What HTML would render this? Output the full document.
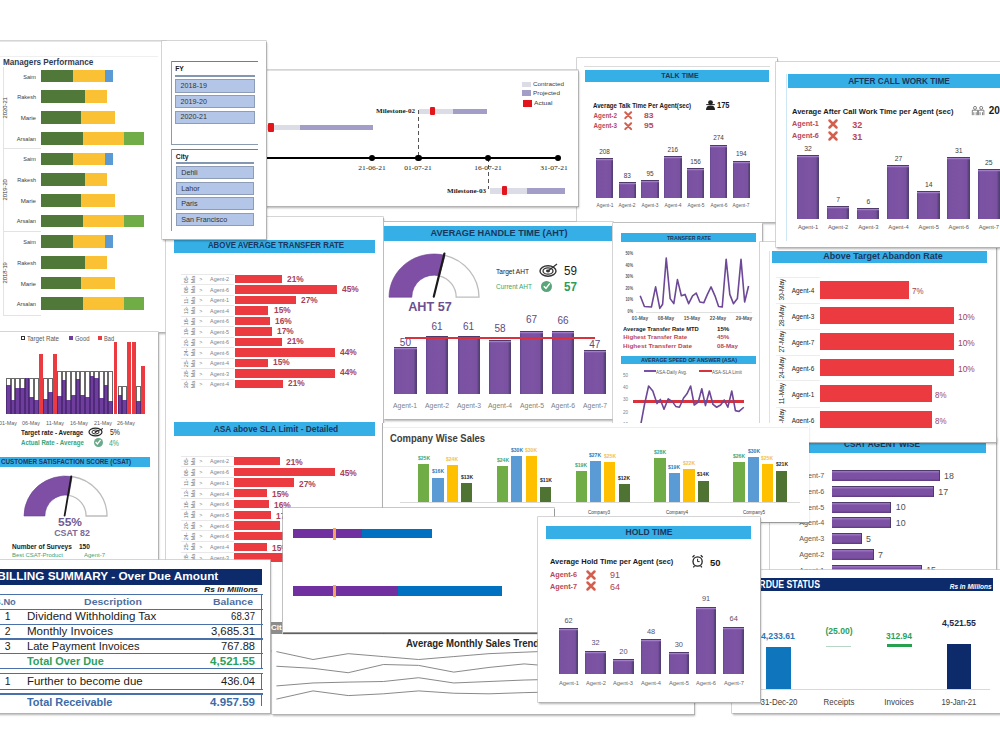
<!DOCTYPE html><html><head><meta charset="utf-8"><style>
html,body{margin:0;padding:0;background:#fff;}
body{width:1000px;height:750px;position:relative;overflow:hidden;font-family:"Liberation Sans",sans-serif;}
</style></head><body>
<div style="position:absolute;left:-10px;top:300px;width:175.5px;height:266px;background:#fff;box-shadow:0 0 0 .7px #c4c4c4,1px 1px 0 #8c8c8c,1px 2px 2px rgba(0,0,0,.3);overflow:hidden;">
</div>
<div style="position:absolute;left:-10px;top:41px;width:175.5px;height:291px;background:#fff;box-shadow:0 0 0 .7px #c4c4c4,1px 1px 0 #8c8c8c,1px 2px 2px rgba(0,0,0,.3);overflow:hidden;">
<div style="position:absolute;left:0px;top:0px;width:175.5px;height:0.6px;background:#e6e6e6;"></div>
<div style="position:absolute;left:0px;top:14.5px;width:168px;height:0.7px;background:#efefef;"></div>
<div style="position:absolute;left:13px;top:12.7px;height:17px;line-height:17px;font-family:'Liberation Sans', sans-serif;font-size:8.5px;font-weight:bold;color:#2f3b55;white-space:nowrap;transform:scaleX(0.96);transform-origin:0 50%;">Managers Performance</div>
<div style="position:absolute;left:13px;top:26px;width:0.6px;height:248px;background:#e3e3e3;"></div>
<div style="position:absolute;left:13px;top:274px;width:38px;height:0.6px;background:#e3e3e3;"></div>
<div style="position:absolute;left:13px;top:107px;width:38px;height:0.6px;background:#e3e3e3;"></div>
<div style="position:absolute;left:13px;top:190.3px;width:38px;height:0.6px;background:#e3e3e3;"></div>
<div style="position:absolute;left:-83.8px;top:60.7px;width:200px;height:11.6px;line-height:11.6px;text-align:center;transform:rotate(-90deg);font-family:'Liberation Sans', sans-serif;font-size:5.8px;font-weight:normal;color:#404040;white-space:nowrap;">2020-21</div>
<div style="position:absolute;left:-83.8px;top:143.2px;width:200px;height:11.6px;line-height:11.6px;text-align:center;transform:rotate(-90deg);font-family:'Liberation Sans', sans-serif;font-size:5.8px;font-weight:normal;color:#404040;white-space:nowrap;">2019-20</div>
<div style="position:absolute;left:-83.8px;top:226.2px;width:200px;height:11.6px;line-height:11.6px;text-align:center;transform:rotate(-90deg);font-family:'Liberation Sans', sans-serif;font-size:5.8px;font-weight:normal;color:#404040;white-space:nowrap;">2018-19</div>
<div style="position:absolute;left:-954.5px;width:1000px;text-align:right;top:29.5px;height:12.4px;line-height:12.4px;font-family:'Liberation Sans', sans-serif;font-size:6.2px;font-weight:normal;color:#404040;white-space:nowrap;transform:scaleX(0.9);transform-origin:100% 50%;">Saim</div>
<div style="position:absolute;left:51px;top:28.7px;width:32px;height:12.8px;background:#507838;"></div>
<div style="position:absolute;left:83px;top:28.7px;width:32px;height:12.8px;background:#f9c133;"></div>
<div style="position:absolute;left:115px;top:28.7px;width:8.2px;height:12.8px;background:#5b9bd5;"></div>
<div style="position:absolute;left:-954.5px;width:1000px;text-align:right;top:50.2px;height:12.4px;line-height:12.4px;font-family:'Liberation Sans', sans-serif;font-size:6.2px;font-weight:normal;color:#404040;white-space:nowrap;transform:scaleX(0.89);transform-origin:100% 50%;">Rakesh</div>
<div style="position:absolute;left:51px;top:49.4px;width:44.3px;height:12.8px;background:#507838;"></div>
<div style="position:absolute;left:95.3px;top:49.4px;width:22.1px;height:12.8px;background:#f9c133;"></div>
<div style="position:absolute;left:-954.5px;width:1000px;text-align:right;top:70.9px;height:12.4px;line-height:12.4px;font-family:'Liberation Sans', sans-serif;font-size:6.2px;font-weight:normal;color:#404040;white-space:nowrap;transform:scaleX(0.99);transform-origin:100% 50%;">Marie</div>
<div style="position:absolute;left:51px;top:70.1px;width:40.3px;height:12.8px;background:#507838;"></div>
<div style="position:absolute;left:91.3px;top:70.1px;width:33.5px;height:12.8px;background:#f9c133;"></div>
<div style="position:absolute;left:-954.5px;width:1000px;text-align:right;top:91.6px;height:12.4px;line-height:12.4px;font-family:'Liberation Sans', sans-serif;font-size:6.2px;font-weight:normal;color:#404040;white-space:nowrap;transform:scaleX(0.92);transform-origin:100% 50%;">Arsalan</div>
<div style="position:absolute;left:51px;top:90.8px;width:42px;height:12.8px;background:#507838;"></div>
<div style="position:absolute;left:93px;top:90.8px;width:41px;height:12.8px;background:#f9c133;"></div>
<div style="position:absolute;left:134px;top:90.8px;width:20px;height:12.8px;background:#70ad47;"></div>
<div style="position:absolute;left:-954.5px;width:1000px;text-align:right;top:112.3px;height:12.4px;line-height:12.4px;font-family:'Liberation Sans', sans-serif;font-size:6.2px;font-weight:normal;color:#404040;white-space:nowrap;transform:scaleX(0.9);transform-origin:100% 50%;">Saim</div>
<div style="position:absolute;left:51px;top:111.5px;width:32px;height:12.8px;background:#507838;"></div>
<div style="position:absolute;left:83px;top:111.5px;width:32px;height:12.8px;background:#f9c133;"></div>
<div style="position:absolute;left:115px;top:111.5px;width:8.2px;height:12.8px;background:#5b9bd5;"></div>
<div style="position:absolute;left:-954.5px;width:1000px;text-align:right;top:133px;height:12.4px;line-height:12.4px;font-family:'Liberation Sans', sans-serif;font-size:6.2px;font-weight:normal;color:#404040;white-space:nowrap;transform:scaleX(0.89);transform-origin:100% 50%;">Rakesh</div>
<div style="position:absolute;left:51px;top:132.2px;width:44.3px;height:12.8px;background:#507838;"></div>
<div style="position:absolute;left:95.3px;top:132.2px;width:22.1px;height:12.8px;background:#f9c133;"></div>
<div style="position:absolute;left:-954.5px;width:1000px;text-align:right;top:153.7px;height:12.4px;line-height:12.4px;font-family:'Liberation Sans', sans-serif;font-size:6.2px;font-weight:normal;color:#404040;white-space:nowrap;transform:scaleX(0.99);transform-origin:100% 50%;">Marie</div>
<div style="position:absolute;left:51px;top:152.9px;width:40.3px;height:12.8px;background:#507838;"></div>
<div style="position:absolute;left:91.3px;top:152.9px;width:33.5px;height:12.8px;background:#f9c133;"></div>
<div style="position:absolute;left:-954.5px;width:1000px;text-align:right;top:174.4px;height:12.4px;line-height:12.4px;font-family:'Liberation Sans', sans-serif;font-size:6.2px;font-weight:normal;color:#404040;white-space:nowrap;transform:scaleX(0.92);transform-origin:100% 50%;">Arsalan</div>
<div style="position:absolute;left:51px;top:173.6px;width:42px;height:12.8px;background:#507838;"></div>
<div style="position:absolute;left:93px;top:173.6px;width:41px;height:12.8px;background:#f9c133;"></div>
<div style="position:absolute;left:134px;top:173.6px;width:20px;height:12.8px;background:#70ad47;"></div>
<div style="position:absolute;left:-954.5px;width:1000px;text-align:right;top:195.1px;height:12.4px;line-height:12.4px;font-family:'Liberation Sans', sans-serif;font-size:6.2px;font-weight:normal;color:#404040;white-space:nowrap;transform:scaleX(0.9);transform-origin:100% 50%;">Saim</div>
<div style="position:absolute;left:51px;top:194.3px;width:32px;height:12.8px;background:#507838;"></div>
<div style="position:absolute;left:83px;top:194.3px;width:32px;height:12.8px;background:#f9c133;"></div>
<div style="position:absolute;left:115px;top:194.3px;width:8.2px;height:12.8px;background:#5b9bd5;"></div>
<div style="position:absolute;left:-954.5px;width:1000px;text-align:right;top:215.8px;height:12.4px;line-height:12.4px;font-family:'Liberation Sans', sans-serif;font-size:6.2px;font-weight:normal;color:#404040;white-space:nowrap;transform:scaleX(0.89);transform-origin:100% 50%;">Rakesh</div>
<div style="position:absolute;left:51px;top:215px;width:44.3px;height:12.8px;background:#507838;"></div>
<div style="position:absolute;left:95.3px;top:215px;width:22.1px;height:12.8px;background:#f9c133;"></div>
<div style="position:absolute;left:-954.5px;width:1000px;text-align:right;top:236.5px;height:12.4px;line-height:12.4px;font-family:'Liberation Sans', sans-serif;font-size:6.2px;font-weight:normal;color:#404040;white-space:nowrap;transform:scaleX(0.99);transform-origin:100% 50%;">Marie</div>
<div style="position:absolute;left:51px;top:235.7px;width:40.3px;height:12.8px;background:#507838;"></div>
<div style="position:absolute;left:91.3px;top:235.7px;width:33.5px;height:12.8px;background:#f9c133;"></div>
<div style="position:absolute;left:-954.5px;width:1000px;text-align:right;top:257.2px;height:12.4px;line-height:12.4px;font-family:'Liberation Sans', sans-serif;font-size:6.2px;font-weight:normal;color:#404040;white-space:nowrap;transform:scaleX(0.92);transform-origin:100% 50%;">Arsalan</div>
<div style="position:absolute;left:51px;top:256.4px;width:42px;height:12.8px;background:#507838;"></div>
<div style="position:absolute;left:93px;top:256.4px;width:41px;height:12.8px;background:#f9c133;"></div>
<div style="position:absolute;left:134px;top:256.4px;width:20px;height:12.8px;background:#70ad47;"></div>
</div>
<div style="position:absolute;left:266px;top:180px;width:311px;height:41.2px;background:#fff;box-shadow:0 0 0 .7px #c4c4c4,1px 1px 0 #8c8c8c,1px 2px 2px rgba(0,0,0,.3);overflow:hidden;">
</div>
<div style="position:absolute;left:576.7px;top:57.7px;width:200.1px;height:164.6px;background:#fff;box-shadow:0 0 0 .7px #c4c4c4,1px 1px 0 #8c8c8c,1px 2px 2px rgba(0,0,0,.3);overflow:hidden;">
<div style="position:absolute;left:7.3px;top:8.3px;width:186px;height:0.7px;background:#dcdcdc;"></div>
<div style="position:absolute;left:8.2px;top:12.2px;width:184.2px;height:11.8px;background:#36afe6;"></div>
<div style="position:absolute;left:-396.7px;width:1000px;text-align:center;top:10.3px;height:15.6px;line-height:15.6px;font-family:'Liberation Sans', sans-serif;font-size:7.8px;font-weight:bold;color:#1b365d;white-space:nowrap;transform:scaleX(0.91);transform-origin:50% 50%;">TALK TIME</div>
<div style="position:absolute;left:16.8px;top:41.3px;height:13.2px;line-height:13.2px;font-family:'Liberation Sans', sans-serif;font-size:6.6px;font-weight:bold;color:#1a1a1a;white-space:nowrap;transform:scaleX(0.93);transform-origin:0 50%;">Average Talk Time Per Agent(sec)</div>
<div style="position:absolute;left:140.8px;top:39.4px;height:17px;line-height:17px;font-family:'Liberation Sans', sans-serif;font-size:8.5px;font-weight:bold;color:#1a1a1a;white-space:nowrap;transform:scaleX(0.88);transform-origin:0 50%;">175</div>
<svg style="position:absolute;left:128.3px;top:41.3px;overflow:visible" width="11" height="11" viewBox="705 99 11 11">
<circle cx="710.5" cy="102.6" r="2.4" fill="#222"/><path d="M706.2 104.6 H714.8" stroke="#222" stroke-width="1"/><path d="M706 110 Q706 105.6 710.5 105.6 Q715 105.6 715 110 Z" fill="#222"/>
</svg>
<div style="position:absolute;left:16.8px;top:51.9px;height:12.6px;line-height:12.6px;font-family:'Liberation Sans', sans-serif;font-size:6.3px;font-weight:bold;color:#b8475a;white-space:nowrap;transform:scaleX(1);transform-origin:0 50%;">Agent-2</div>
<div style="position:absolute;left:16.8px;top:62.2px;height:12.6px;line-height:12.6px;font-family:'Liberation Sans', sans-serif;font-size:6.3px;font-weight:bold;color:#b8475a;white-space:nowrap;transform:scaleX(1);transform-origin:0 50%;">Agent-3</div>
<div style="position:absolute;left:67px;top:50.2px;height:16px;line-height:16px;font-family:'Liberation Sans', sans-serif;font-size:8px;font-weight:bold;color:#b8475a;white-space:nowrap;transform:scaleX(1.07);transform-origin:0 50%;">83</div>
<div style="position:absolute;left:67px;top:60.5px;height:16px;line-height:16px;font-family:'Liberation Sans', sans-serif;font-size:8px;font-weight:bold;color:#b8475a;white-space:nowrap;transform:scaleX(1.07);transform-origin:0 50%;">95</div>
<svg style="position:absolute;left:47.4px;top:53.7px;overflow:visible" width="8.4" height="8.4" viewBox="624.1 111.4 8.4 8.4">
<path d="M625.36 112.66L631.24 118.54M631.24 112.66L625.36 118.54" stroke="#d45f4f" stroke-width="2.1" stroke-linecap="round"/>
</svg>
<svg style="position:absolute;left:47.4px;top:63.9px;overflow:visible" width="8.4" height="8.4" viewBox="624.1 121.6 8.4 8.4">
<path d="M625.36 122.86L631.24 128.74M631.24 122.86L625.36 128.74" stroke="#d45f4f" stroke-width="2.1" stroke-linecap="round"/>
</svg>
<div style="position:absolute;left:19.2px;top:100.3px;width:17.3px;height:40.3px;background:linear-gradient(90deg,#62458f 0%,#7a52a2 8%,#7d53a4 60%,#7a51a0 86%,#5c4680 92%,#4f3d6e 100%);box-sizing:border-box;border-top:1px solid #4e3a6b;box-shadow:inset 0 1.3px 0 #a27ec8;"></div>
<div style="position:absolute;left:-472.15px;width:1000px;text-align:center;top:88px;height:12.8px;line-height:12.8px;font-family:'Liberation Sans', sans-serif;font-size:6.4px;font-weight:normal;color:#404040;white-space:nowrap;">208</div>
<div style="position:absolute;left:-472.15px;width:1000px;text-align:center;top:143.3px;height:9.6px;line-height:9.6px;font-family:'Liberation Sans', sans-serif;font-size:4.8px;font-weight:normal;color:#595959;white-space:nowrap;transform:scaleX(1.01);transform-origin:50% 50%;">Agent-1</div>
<div style="position:absolute;left:42px;top:124.7px;width:17.3px;height:15.9px;background:linear-gradient(90deg,#62458f 0%,#7a52a2 8%,#7d53a4 60%,#7a51a0 86%,#5c4680 92%,#4f3d6e 100%);box-sizing:border-box;border-top:1px solid #4e3a6b;box-shadow:inset 0 1.3px 0 #a27ec8;"></div>
<div style="position:absolute;left:-449.35px;width:1000px;text-align:center;top:112.4px;height:12.8px;line-height:12.8px;font-family:'Liberation Sans', sans-serif;font-size:6.4px;font-weight:normal;color:#404040;white-space:nowrap;">83</div>
<div style="position:absolute;left:-449.35px;width:1000px;text-align:center;top:143.3px;height:9.6px;line-height:9.6px;font-family:'Liberation Sans', sans-serif;font-size:4.8px;font-weight:normal;color:#595959;white-space:nowrap;transform:scaleX(1.01);transform-origin:50% 50%;">Agent-2</div>
<div style="position:absolute;left:64.6px;top:122.6px;width:17.5px;height:18px;background:linear-gradient(90deg,#62458f 0%,#7a52a2 8%,#7d53a4 60%,#7a51a0 86%,#5c4680 92%,#4f3d6e 100%);box-sizing:border-box;border-top:1px solid #4e3a6b;box-shadow:inset 0 1.3px 0 #a27ec8;"></div>
<div style="position:absolute;left:-426.65px;width:1000px;text-align:center;top:110.3px;height:12.8px;line-height:12.8px;font-family:'Liberation Sans', sans-serif;font-size:6.4px;font-weight:normal;color:#404040;white-space:nowrap;">95</div>
<div style="position:absolute;left:-426.65px;width:1000px;text-align:center;top:143.3px;height:9.6px;line-height:9.6px;font-family:'Liberation Sans', sans-serif;font-size:4.8px;font-weight:normal;color:#595959;white-space:nowrap;transform:scaleX(1.01);transform-origin:50% 50%;">Agent-3</div>
<div style="position:absolute;left:87.3px;top:98.3px;width:17.6px;height:42.3px;background:linear-gradient(90deg,#62458f 0%,#7a52a2 8%,#7d53a4 60%,#7a51a0 86%,#5c4680 92%,#4f3d6e 100%);box-sizing:border-box;border-top:1px solid #4e3a6b;box-shadow:inset 0 1.3px 0 #a27ec8;"></div>
<div style="position:absolute;left:-403.9px;width:1000px;text-align:center;top:86px;height:12.8px;line-height:12.8px;font-family:'Liberation Sans', sans-serif;font-size:6.4px;font-weight:normal;color:#404040;white-space:nowrap;">216</div>
<div style="position:absolute;left:-403.9px;width:1000px;text-align:center;top:143.3px;height:9.6px;line-height:9.6px;font-family:'Liberation Sans', sans-serif;font-size:4.8px;font-weight:normal;color:#595959;white-space:nowrap;transform:scaleX(1.01);transform-origin:50% 50%;">Agent-4</div>
<div style="position:absolute;left:110.1px;top:110.3px;width:17.6px;height:30.3px;background:linear-gradient(90deg,#62458f 0%,#7a52a2 8%,#7d53a4 60%,#7a51a0 86%,#5c4680 92%,#4f3d6e 100%);box-sizing:border-box;border-top:1px solid #4e3a6b;box-shadow:inset 0 1.3px 0 #a27ec8;"></div>
<div style="position:absolute;left:-381.1px;width:1000px;text-align:center;top:98px;height:12.8px;line-height:12.8px;font-family:'Liberation Sans', sans-serif;font-size:6.4px;font-weight:normal;color:#404040;white-space:nowrap;">156</div>
<div style="position:absolute;left:-381.1px;width:1000px;text-align:center;top:143.3px;height:9.6px;line-height:9.6px;font-family:'Liberation Sans', sans-serif;font-size:4.8px;font-weight:normal;color:#595959;white-space:nowrap;transform:scaleX(1.01);transform-origin:50% 50%;">Agent-5</div>
<div style="position:absolute;left:133.2px;top:87.1px;width:17.2px;height:53.5px;background:linear-gradient(90deg,#62458f 0%,#7a52a2 8%,#7d53a4 60%,#7a51a0 86%,#5c4680 92%,#4f3d6e 100%);box-sizing:border-box;border-top:1px solid #4e3a6b;box-shadow:inset 0 1.3px 0 #a27ec8;"></div>
<div style="position:absolute;left:-358.2px;width:1000px;text-align:center;top:74.8px;height:12.8px;line-height:12.8px;font-family:'Liberation Sans', sans-serif;font-size:6.4px;font-weight:normal;color:#404040;white-space:nowrap;">274</div>
<div style="position:absolute;left:-358.2px;width:1000px;text-align:center;top:143.3px;height:9.6px;line-height:9.6px;font-family:'Liberation Sans', sans-serif;font-size:4.8px;font-weight:normal;color:#595959;white-space:nowrap;transform:scaleX(1.01);transform-origin:50% 50%;">Agent-6</div>
<div style="position:absolute;left:156px;top:102.9px;width:17.3px;height:37.7px;background:linear-gradient(90deg,#62458f 0%,#7a52a2 8%,#7d53a4 60%,#7a51a0 86%,#5c4680 92%,#4f3d6e 100%);box-sizing:border-box;border-top:1px solid #4e3a6b;box-shadow:inset 0 1.3px 0 #a27ec8;"></div>
<div style="position:absolute;left:-335.35px;width:1000px;text-align:center;top:90.6px;height:12.8px;line-height:12.8px;font-family:'Liberation Sans', sans-serif;font-size:6.4px;font-weight:normal;color:#404040;white-space:nowrap;">194</div>
<div style="position:absolute;left:-335.35px;width:1000px;text-align:center;top:143.3px;height:9.6px;line-height:9.6px;font-family:'Liberation Sans', sans-serif;font-size:4.8px;font-weight:normal;color:#595959;white-space:nowrap;transform:scaleX(1.01);transform-origin:50% 50%;">Agent-7</div>
</div>
<div style="position:absolute;left:230px;top:70px;width:347.5px;height:136px;background:#fff;box-shadow:0 0 0 .7px #c4c4c4,1px 1px 0 #8c8c8c,1px 2px 2px rgba(0,0,0,.3);overflow:hidden;">
<div style="position:absolute;left:0px;top:0px;width:347.5px;height:0.6px;background:#e0e0e0;"></div>
<div style="position:absolute;left:292.4px;top:11.5px;width:8.2px;height:5.5px;background:#dcdce6;"></div>
<div style="position:absolute;left:302.5px;top:9.3px;height:11.2px;line-height:11.2px;font-family:'Liberation Sans', sans-serif;font-size:5.6px;font-weight:normal;color:#404040;white-space:nowrap;transform:scaleX(1.13);transform-origin:0 50%;">Contracted</div>
<div style="position:absolute;left:292.4px;top:20.4px;width:8.2px;height:5.6px;background:#a39ec7;"></div>
<div style="position:absolute;left:302.5px;top:18.2px;height:11.2px;line-height:11.2px;font-family:'Liberation Sans', sans-serif;font-size:5.6px;font-weight:normal;color:#404040;white-space:nowrap;transform:scaleX(1.14);transform-origin:0 50%;">Projected</div>
<div style="position:absolute;left:293px;top:30px;width:9px;height:6.5px;background:#e3151c;"></div>
<div style="position:absolute;left:304px;top:27.6px;height:11.2px;line-height:11.2px;font-family:'Liberation Sans', sans-serif;font-size:5.6px;font-weight:normal;color:#404040;white-space:nowrap;transform:scaleX(1.19);transform-origin:0 50%;">Actual</div>
<div style="position:absolute;left:188px;top:40px;width:1px;height:47px;background:repeating-linear-gradient(180deg,#555 0 4px,transparent 4px 7px);"></div>
<div style="position:absolute;left:258px;top:88px;width:1px;height:31px;background:repeating-linear-gradient(180deg,#555 0 4px,transparent 4px 7px);"></div>
<div style="position:absolute;left:0px;top:86.7px;width:329px;height:2px;background:#000;"></div>
<div style="position:absolute;left:139px;top:84.5px;width:6.4px;height:6.4px;background:#000;border-radius:50%;"></div>
<div style="position:absolute;left:185.2px;top:84.5px;width:6.4px;height:6.4px;background:#000;border-radius:50%;"></div>
<div style="position:absolute;left:254.8px;top:84.5px;width:6.4px;height:6.4px;background:#000;border-radius:50%;"></div>
<div style="position:absolute;left:324.8px;top:84.5px;width:6.4px;height:6.4px;background:#000;border-radius:50%;"></div>
<div style="position:absolute;left:-357.8px;width:1000px;text-align:center;top:90.9px;height:14px;line-height:14px;font-family:'Liberation Serif', serif;font-size:7px;font-weight:normal;color:#222;white-space:nowrap;transform:scaleX(1.07);transform-origin:50% 50%;">21-06-21</div>
<div style="position:absolute;left:-311.6px;width:1000px;text-align:center;top:90.9px;height:14px;line-height:14px;font-family:'Liberation Serif', serif;font-size:7px;font-weight:normal;color:#222;white-space:nowrap;transform:scaleX(1.07);transform-origin:50% 50%;">01-07-21</div>
<div style="position:absolute;left:-242px;width:1000px;text-align:center;top:90.9px;height:14px;line-height:14px;font-family:'Liberation Serif', serif;font-size:7px;font-weight:normal;color:#222;white-space:nowrap;transform:scaleX(1.07);transform-origin:50% 50%;">16-07-21</div>
<div style="position:absolute;left:-176px;width:1000px;text-align:center;top:90.9px;height:14px;line-height:14px;font-family:'Liberation Serif', serif;font-size:7px;font-weight:normal;color:#222;white-space:nowrap;transform:scaleX(1.07);transform-origin:50% 50%;">31-07-21</div>
<div style="position:absolute;left:0px;top:54.7px;width:70px;height:5.6px;background:#dcdce6;"></div>
<div style="position:absolute;left:70px;top:54.7px;width:72.9px;height:5.6px;background:#a39ec7;"></div>
<div style="position:absolute;left:38px;top:52.8px;width:5.9px;height:9.7px;background:#e3151c;border-radius:1px;"></div>
<div style="position:absolute;left:-815px;width:1000px;text-align:right;top:34.2px;height:14px;line-height:14px;font-family:'Liberation Serif', serif;font-size:7px;font-weight:bold;color:#222;white-space:nowrap;transform:scaleX(1.01);transform-origin:100% 50%;">Milestone-02</div>
<div style="position:absolute;left:189px;top:38.5px;width:34px;height:5.3px;background:#dcdce6;"></div>
<div style="position:absolute;left:223px;top:38.5px;width:34px;height:5.3px;background:#a39ec7;"></div>
<div style="position:absolute;left:200px;top:37px;width:5px;height:8.4px;background:#e3151c;border-radius:1px;"></div>
<div style="position:absolute;left:-744px;width:1000px;text-align:right;top:113.5px;height:14px;line-height:14px;font-family:'Liberation Serif', serif;font-size:7px;font-weight:bold;color:#222;white-space:nowrap;transform:scaleX(1.01);transform-origin:100% 50%;">Milestone-03</div>
<div style="position:absolute;left:260px;top:118px;width:37px;height:5.7px;background:#dcdce6;"></div>
<div style="position:absolute;left:297px;top:118px;width:38px;height:5.7px;background:#a39ec7;"></div>
<div style="position:absolute;left:272px;top:116px;width:4.5px;height:9.3px;background:#e3151c;border-radius:1px;"></div>
</div>
<div style="position:absolute;left:166.3px;top:217px;width:216.9px;height:433px;background:#fff;box-shadow:0 0 0 .7px #c4c4c4,1px 1px 0 #8c8c8c,1px 2px 2px rgba(0,0,0,.3);overflow:hidden;">
<div style="position:absolute;left:7.6px;top:22.7px;width:201.4px;height:13.2px;background:#36afe6;"></div>
<div style="position:absolute;left:-390.4px;width:1000px;text-align:center;top:21.1px;height:16.4px;line-height:16.4px;font-family:'Liberation Sans', sans-serif;font-size:8.2px;font-weight:bold;color:#1b365d;white-space:nowrap;transform:scaleX(0.96);transform-origin:50% 50%;">ABOVE AVERAGE TRANSFER RATE</div>
<div style="position:absolute;left:8.1px;top:205.3px;width:200.3px;height:13.8px;background:#36afe6;"></div>
<div style="position:absolute;left:-390.3px;width:1000px;text-align:center;top:203.6px;height:17.2px;line-height:17.2px;font-family:'Liberation Sans', sans-serif;font-size:8.6px;font-weight:bold;color:#1b365d;white-space:nowrap;transform:scaleX(0.97);transform-origin:50% 50%;">ASA above SLA Limit - Detailed</div>
<div style="position:absolute;left:14.7px;top:56.55px;width:53px;height:0.7px;background:#e8e8e8;"></div>
<div style="position:absolute;left:-446.8px;width:1000px;text-align:center;top:57.3px;height:10.8px;line-height:10.8px;font-family:'Liberation Sans', sans-serif;font-size:5.4px;font-weight:normal;color:#808080;white-space:nowrap;transform:scaleX(1);transform-origin:50% 50%;">Agent-2</div>
<div style="position:absolute;left:-465.4px;width:1000px;text-align:center;top:57.3px;height:10.8px;line-height:10.8px;font-family:'Liberation Sans', sans-serif;font-size:5.4px;font-weight:normal;color:#808080;white-space:nowrap;">&gt;</div>
<div style="position:absolute;left:-80.8px;top:56.7px;width:200px;height:10.8px;line-height:10.8px;text-align:center;transform:rotate(-90deg);font-family:'Liberation Sans', sans-serif;font-size:5.4px;font-weight:normal;color:#707070;white-space:nowrap;">05-</div>
<div style="position:absolute;left:-73.5px;top:56.7px;width:200px;height:10.8px;line-height:10.8px;text-align:center;transform:rotate(-90deg);font-family:'Liberation Sans', sans-serif;font-size:5.4px;font-weight:normal;color:#707070;white-space:nowrap;">Ma</div>
<div style="position:absolute;left:68.9px;top:57.9px;width:46.9px;height:8.4px;background:#ec3a41;"></div>
<div style="position:absolute;left:121px;top:52.1px;height:19px;line-height:19px;font-family:'Liberation Sans', sans-serif;font-size:9.5px;font-weight:bold;color:#a8405a;white-space:nowrap;transform:scaleX(0.88);transform-origin:0 50%;">21%</div>
<div style="position:absolute;left:14.7px;top:67.05px;width:53px;height:0.7px;background:#e8e8e8;"></div>
<div style="position:absolute;left:-446.8px;width:1000px;text-align:center;top:67.8px;height:10.8px;line-height:10.8px;font-family:'Liberation Sans', sans-serif;font-size:5.4px;font-weight:normal;color:#808080;white-space:nowrap;transform:scaleX(1);transform-origin:50% 50%;">Agent-6</div>
<div style="position:absolute;left:-465.4px;width:1000px;text-align:center;top:67.8px;height:10.8px;line-height:10.8px;font-family:'Liberation Sans', sans-serif;font-size:5.4px;font-weight:normal;color:#808080;white-space:nowrap;">&gt;</div>
<div style="position:absolute;left:-80.8px;top:67.2px;width:200px;height:10.8px;line-height:10.8px;text-align:center;transform:rotate(-90deg);font-family:'Liberation Sans', sans-serif;font-size:5.4px;font-weight:normal;color:#707070;white-space:nowrap;">08-</div>
<div style="position:absolute;left:-73.5px;top:67.2px;width:200px;height:10.8px;line-height:10.8px;text-align:center;transform:rotate(-90deg);font-family:'Liberation Sans', sans-serif;font-size:5.4px;font-weight:normal;color:#707070;white-space:nowrap;">Ma</div>
<div style="position:absolute;left:68.9px;top:68.4px;width:101.6px;height:8.4px;background:#ec3a41;"></div>
<div style="position:absolute;left:175.7px;top:62.47px;height:19px;line-height:19px;font-family:'Liberation Sans', sans-serif;font-size:9.5px;font-weight:bold;color:#a8405a;white-space:nowrap;transform:scaleX(0.88);transform-origin:0 50%;">45%</div>
<div style="position:absolute;left:14.7px;top:77.55px;width:53px;height:0.7px;background:#e8e8e8;"></div>
<div style="position:absolute;left:-446.8px;width:1000px;text-align:center;top:78.3px;height:10.8px;line-height:10.8px;font-family:'Liberation Sans', sans-serif;font-size:5.4px;font-weight:normal;color:#808080;white-space:nowrap;transform:scaleX(1);transform-origin:50% 50%;">Agent-1</div>
<div style="position:absolute;left:-465.4px;width:1000px;text-align:center;top:78.3px;height:10.8px;line-height:10.8px;font-family:'Liberation Sans', sans-serif;font-size:5.4px;font-weight:normal;color:#808080;white-space:nowrap;">&gt;</div>
<div style="position:absolute;left:-80.8px;top:77.7px;width:200px;height:10.8px;line-height:10.8px;text-align:center;transform:rotate(-90deg);font-family:'Liberation Sans', sans-serif;font-size:5.4px;font-weight:normal;color:#707070;white-space:nowrap;">11-</div>
<div style="position:absolute;left:-73.5px;top:77.7px;width:200px;height:10.8px;line-height:10.8px;text-align:center;transform:rotate(-90deg);font-family:'Liberation Sans', sans-serif;font-size:5.4px;font-weight:normal;color:#707070;white-space:nowrap;">Ma</div>
<div style="position:absolute;left:68.9px;top:78.9px;width:60.8px;height:8.4px;background:#ec3a41;"></div>
<div style="position:absolute;left:134.9px;top:72.83px;height:19px;line-height:19px;font-family:'Liberation Sans', sans-serif;font-size:9.5px;font-weight:bold;color:#a8405a;white-space:nowrap;transform:scaleX(0.88);transform-origin:0 50%;">27%</div>
<div style="position:absolute;left:14.7px;top:88.05px;width:53px;height:0.7px;background:#e8e8e8;"></div>
<div style="position:absolute;left:-446.8px;width:1000px;text-align:center;top:88.8px;height:10.8px;line-height:10.8px;font-family:'Liberation Sans', sans-serif;font-size:5.4px;font-weight:normal;color:#808080;white-space:nowrap;transform:scaleX(1);transform-origin:50% 50%;">Agent-4</div>
<div style="position:absolute;left:-465.4px;width:1000px;text-align:center;top:88.8px;height:10.8px;line-height:10.8px;font-family:'Liberation Sans', sans-serif;font-size:5.4px;font-weight:normal;color:#808080;white-space:nowrap;">&gt;</div>
<div style="position:absolute;left:-80.8px;top:88.2px;width:200px;height:10.8px;line-height:10.8px;text-align:center;transform:rotate(-90deg);font-family:'Liberation Sans', sans-serif;font-size:5.4px;font-weight:normal;color:#707070;white-space:nowrap;">13-</div>
<div style="position:absolute;left:-73.5px;top:88.2px;width:200px;height:10.8px;line-height:10.8px;text-align:center;transform:rotate(-90deg);font-family:'Liberation Sans', sans-serif;font-size:5.4px;font-weight:normal;color:#707070;white-space:nowrap;">Ma</div>
<div style="position:absolute;left:68.9px;top:89.4px;width:33.2px;height:8.4px;background:#ec3a41;"></div>
<div style="position:absolute;left:107.3px;top:83.2px;height:19px;line-height:19px;font-family:'Liberation Sans', sans-serif;font-size:9.5px;font-weight:bold;color:#a8405a;white-space:nowrap;transform:scaleX(0.88);transform-origin:0 50%;">15%</div>
<div style="position:absolute;left:14.7px;top:98.55px;width:53px;height:0.7px;background:#e8e8e8;"></div>
<div style="position:absolute;left:-446.8px;width:1000px;text-align:center;top:99.3px;height:10.8px;line-height:10.8px;font-family:'Liberation Sans', sans-serif;font-size:5.4px;font-weight:normal;color:#808080;white-space:nowrap;transform:scaleX(1);transform-origin:50% 50%;">Agent-6</div>
<div style="position:absolute;left:-465.4px;width:1000px;text-align:center;top:99.3px;height:10.8px;line-height:10.8px;font-family:'Liberation Sans', sans-serif;font-size:5.4px;font-weight:normal;color:#808080;white-space:nowrap;">&gt;</div>
<div style="position:absolute;left:-80.8px;top:98.7px;width:200px;height:10.8px;line-height:10.8px;text-align:center;transform:rotate(-90deg);font-family:'Liberation Sans', sans-serif;font-size:5.4px;font-weight:normal;color:#707070;white-space:nowrap;">16-</div>
<div style="position:absolute;left:-73.5px;top:98.7px;width:200px;height:10.8px;line-height:10.8px;text-align:center;transform:rotate(-90deg);font-family:'Liberation Sans', sans-serif;font-size:5.4px;font-weight:normal;color:#707070;white-space:nowrap;">Ma</div>
<div style="position:absolute;left:68.9px;top:99.9px;width:35px;height:8.4px;background:#ec3a41;"></div>
<div style="position:absolute;left:109.1px;top:93.56px;height:19px;line-height:19px;font-family:'Liberation Sans', sans-serif;font-size:9.5px;font-weight:bold;color:#a8405a;white-space:nowrap;transform:scaleX(0.88);transform-origin:0 50%;">16%</div>
<div style="position:absolute;left:14.7px;top:109.05px;width:53px;height:0.7px;background:#e8e8e8;"></div>
<div style="position:absolute;left:-446.8px;width:1000px;text-align:center;top:109.8px;height:10.8px;line-height:10.8px;font-family:'Liberation Sans', sans-serif;font-size:5.4px;font-weight:normal;color:#808080;white-space:nowrap;transform:scaleX(1);transform-origin:50% 50%;">Agent-5</div>
<div style="position:absolute;left:-465.4px;width:1000px;text-align:center;top:109.8px;height:10.8px;line-height:10.8px;font-family:'Liberation Sans', sans-serif;font-size:5.4px;font-weight:normal;color:#808080;white-space:nowrap;">&gt;</div>
<div style="position:absolute;left:-80.8px;top:109.2px;width:200px;height:10.8px;line-height:10.8px;text-align:center;transform:rotate(-90deg);font-family:'Liberation Sans', sans-serif;font-size:5.4px;font-weight:normal;color:#707070;white-space:nowrap;">19-</div>
<div style="position:absolute;left:-73.5px;top:109.2px;width:200px;height:10.8px;line-height:10.8px;text-align:center;transform:rotate(-90deg);font-family:'Liberation Sans', sans-serif;font-size:5.4px;font-weight:normal;color:#707070;white-space:nowrap;">Ma</div>
<div style="position:absolute;left:68.9px;top:110.4px;width:36.8px;height:8.4px;background:#ec3a41;"></div>
<div style="position:absolute;left:110.9px;top:103.92px;height:19px;line-height:19px;font-family:'Liberation Sans', sans-serif;font-size:9.5px;font-weight:bold;color:#a8405a;white-space:nowrap;transform:scaleX(0.88);transform-origin:0 50%;">17%</div>
<div style="position:absolute;left:14.7px;top:119.55px;width:53px;height:0.7px;background:#e8e8e8;"></div>
<div style="position:absolute;left:-446.8px;width:1000px;text-align:center;top:120.3px;height:10.8px;line-height:10.8px;font-family:'Liberation Sans', sans-serif;font-size:5.4px;font-weight:normal;color:#808080;white-space:nowrap;transform:scaleX(1);transform-origin:50% 50%;">Agent-6</div>
<div style="position:absolute;left:-465.4px;width:1000px;text-align:center;top:120.3px;height:10.8px;line-height:10.8px;font-family:'Liberation Sans', sans-serif;font-size:5.4px;font-weight:normal;color:#808080;white-space:nowrap;">&gt;</div>
<div style="position:absolute;left:-80.8px;top:119.7px;width:200px;height:10.8px;line-height:10.8px;text-align:center;transform:rotate(-90deg);font-family:'Liberation Sans', sans-serif;font-size:5.4px;font-weight:normal;color:#707070;white-space:nowrap;">20-</div>
<div style="position:absolute;left:-73.5px;top:119.7px;width:200px;height:10.8px;line-height:10.8px;text-align:center;transform:rotate(-90deg);font-family:'Liberation Sans', sans-serif;font-size:5.4px;font-weight:normal;color:#707070;white-space:nowrap;">Ma</div>
<div style="position:absolute;left:68.9px;top:120.9px;width:46.9px;height:8.4px;background:#ec3a41;"></div>
<div style="position:absolute;left:121px;top:114.29px;height:19px;line-height:19px;font-family:'Liberation Sans', sans-serif;font-size:9.5px;font-weight:bold;color:#a8405a;white-space:nowrap;transform:scaleX(0.88);transform-origin:0 50%;">21%</div>
<div style="position:absolute;left:14.7px;top:130.05px;width:53px;height:0.7px;background:#e8e8e8;"></div>
<div style="position:absolute;left:-446.8px;width:1000px;text-align:center;top:130.8px;height:10.8px;line-height:10.8px;font-family:'Liberation Sans', sans-serif;font-size:5.4px;font-weight:normal;color:#808080;white-space:nowrap;transform:scaleX(1);transform-origin:50% 50%;">Agent-6</div>
<div style="position:absolute;left:-465.4px;width:1000px;text-align:center;top:130.8px;height:10.8px;line-height:10.8px;font-family:'Liberation Sans', sans-serif;font-size:5.4px;font-weight:normal;color:#808080;white-space:nowrap;">&gt;</div>
<div style="position:absolute;left:-80.8px;top:130.2px;width:200px;height:10.8px;line-height:10.8px;text-align:center;transform:rotate(-90deg);font-family:'Liberation Sans', sans-serif;font-size:5.4px;font-weight:normal;color:#707070;white-space:nowrap;">24-</div>
<div style="position:absolute;left:-73.5px;top:130.2px;width:200px;height:10.8px;line-height:10.8px;text-align:center;transform:rotate(-90deg);font-family:'Liberation Sans', sans-serif;font-size:5.4px;font-weight:normal;color:#707070;white-space:nowrap;">Ma</div>
<div style="position:absolute;left:68.9px;top:131.4px;width:99.6px;height:8.4px;background:#ec3a41;"></div>
<div style="position:absolute;left:173.7px;top:124.66px;height:19px;line-height:19px;font-family:'Liberation Sans', sans-serif;font-size:9.5px;font-weight:bold;color:#a8405a;white-space:nowrap;transform:scaleX(0.88);transform-origin:0 50%;">44%</div>
<div style="position:absolute;left:14.7px;top:140.55px;width:53px;height:0.7px;background:#e8e8e8;"></div>
<div style="position:absolute;left:-446.8px;width:1000px;text-align:center;top:141.3px;height:10.8px;line-height:10.8px;font-family:'Liberation Sans', sans-serif;font-size:5.4px;font-weight:normal;color:#808080;white-space:nowrap;transform:scaleX(1);transform-origin:50% 50%;">Agent-4</div>
<div style="position:absolute;left:-465.4px;width:1000px;text-align:center;top:141.3px;height:10.8px;line-height:10.8px;font-family:'Liberation Sans', sans-serif;font-size:5.4px;font-weight:normal;color:#808080;white-space:nowrap;">&gt;</div>
<div style="position:absolute;left:-80.8px;top:140.7px;width:200px;height:10.8px;line-height:10.8px;text-align:center;transform:rotate(-90deg);font-family:'Liberation Sans', sans-serif;font-size:5.4px;font-weight:normal;color:#707070;white-space:nowrap;">25-</div>
<div style="position:absolute;left:-73.5px;top:140.7px;width:200px;height:10.8px;line-height:10.8px;text-align:center;transform:rotate(-90deg);font-family:'Liberation Sans', sans-serif;font-size:5.4px;font-weight:normal;color:#707070;white-space:nowrap;">Ma</div>
<div style="position:absolute;left:68.9px;top:141.9px;width:32.8px;height:8.4px;background:#ec3a41;"></div>
<div style="position:absolute;left:106.9px;top:135.02px;height:19px;line-height:19px;font-family:'Liberation Sans', sans-serif;font-size:9.5px;font-weight:bold;color:#a8405a;white-space:nowrap;transform:scaleX(0.88);transform-origin:0 50%;">15%</div>
<div style="position:absolute;left:14.7px;top:151.05px;width:53px;height:0.7px;background:#e8e8e8;"></div>
<div style="position:absolute;left:-446.8px;width:1000px;text-align:center;top:151.8px;height:10.8px;line-height:10.8px;font-family:'Liberation Sans', sans-serif;font-size:5.4px;font-weight:normal;color:#808080;white-space:nowrap;transform:scaleX(1);transform-origin:50% 50%;">Agent-3</div>
<div style="position:absolute;left:-465.4px;width:1000px;text-align:center;top:151.8px;height:10.8px;line-height:10.8px;font-family:'Liberation Sans', sans-serif;font-size:5.4px;font-weight:normal;color:#808080;white-space:nowrap;">&gt;</div>
<div style="position:absolute;left:-80.8px;top:151.2px;width:200px;height:10.8px;line-height:10.8px;text-align:center;transform:rotate(-90deg);font-family:'Liberation Sans', sans-serif;font-size:5.4px;font-weight:normal;color:#707070;white-space:nowrap;">28-</div>
<div style="position:absolute;left:-73.5px;top:151.2px;width:200px;height:10.8px;line-height:10.8px;text-align:center;transform:rotate(-90deg);font-family:'Liberation Sans', sans-serif;font-size:5.4px;font-weight:normal;color:#707070;white-space:nowrap;">Ma</div>
<div style="position:absolute;left:68.9px;top:152.4px;width:99.6px;height:8.4px;background:#ec3a41;"></div>
<div style="position:absolute;left:173.7px;top:145.39px;height:19px;line-height:19px;font-family:'Liberation Sans', sans-serif;font-size:9.5px;font-weight:bold;color:#a8405a;white-space:nowrap;transform:scaleX(0.88);transform-origin:0 50%;">44%</div>
<div style="position:absolute;left:14.7px;top:161.55px;width:53px;height:0.7px;background:#e8e8e8;"></div>
<div style="position:absolute;left:-446.8px;width:1000px;text-align:center;top:162.3px;height:10.8px;line-height:10.8px;font-family:'Liberation Sans', sans-serif;font-size:5.4px;font-weight:normal;color:#808080;white-space:nowrap;transform:scaleX(1);transform-origin:50% 50%;">Agent-4</div>
<div style="position:absolute;left:-465.4px;width:1000px;text-align:center;top:162.3px;height:10.8px;line-height:10.8px;font-family:'Liberation Sans', sans-serif;font-size:5.4px;font-weight:normal;color:#808080;white-space:nowrap;">&gt;</div>
<div style="position:absolute;left:-80.8px;top:161.7px;width:200px;height:10.8px;line-height:10.8px;text-align:center;transform:rotate(-90deg);font-family:'Liberation Sans', sans-serif;font-size:5.4px;font-weight:normal;color:#707070;white-space:nowrap;">30-</div>
<div style="position:absolute;left:-73.5px;top:161.7px;width:200px;height:10.8px;line-height:10.8px;text-align:center;transform:rotate(-90deg);font-family:'Liberation Sans', sans-serif;font-size:5.4px;font-weight:normal;color:#707070;white-space:nowrap;">Ma</div>
<div style="position:absolute;left:68.9px;top:162.9px;width:47.6px;height:8.4px;background:#ec3a41;"></div>
<div style="position:absolute;left:121.7px;top:155.75px;height:19px;line-height:19px;font-family:'Liberation Sans', sans-serif;font-size:9.5px;font-weight:bold;color:#a8405a;white-space:nowrap;transform:scaleX(0.88);transform-origin:0 50%;">21%</div>
<div style="position:absolute;left:14.7px;top:238.55px;width:53px;height:0.7px;background:#e8e8e8;"></div>
<div style="position:absolute;left:-446.8px;width:1000px;text-align:center;top:239.4px;height:10.8px;line-height:10.8px;font-family:'Liberation Sans', sans-serif;font-size:5.4px;font-weight:normal;color:#808080;white-space:nowrap;transform:scaleX(1);transform-origin:50% 50%;">Agent-2</div>
<div style="position:absolute;left:-465.4px;width:1000px;text-align:center;top:239.4px;height:10.8px;line-height:10.8px;font-family:'Liberation Sans', sans-serif;font-size:5.4px;font-weight:normal;color:#808080;white-space:nowrap;">&gt;</div>
<div style="position:absolute;left:-80.8px;top:238.8px;width:200px;height:10.8px;line-height:10.8px;text-align:center;transform:rotate(-90deg);font-family:'Liberation Sans', sans-serif;font-size:5.4px;font-weight:normal;color:#707070;white-space:nowrap;">05-</div>
<div style="position:absolute;left:-73.5px;top:238.8px;width:200px;height:10.8px;line-height:10.8px;text-align:center;transform:rotate(-90deg);font-family:'Liberation Sans', sans-serif;font-size:5.4px;font-weight:normal;color:#707070;white-space:nowrap;">Ma</div>
<div style="position:absolute;left:67.9px;top:240px;width:46.3px;height:8.4px;background:#ec3a41;"></div>
<div style="position:absolute;left:119.4px;top:235.2px;height:19px;line-height:19px;font-family:'Liberation Sans', sans-serif;font-size:9.5px;font-weight:bold;color:#a8405a;white-space:nowrap;transform:scaleX(0.88);transform-origin:0 50%;">21%</div>
<div style="position:absolute;left:14.7px;top:249.25px;width:53px;height:0.7px;background:#e8e8e8;"></div>
<div style="position:absolute;left:-446.8px;width:1000px;text-align:center;top:250.1px;height:10.8px;line-height:10.8px;font-family:'Liberation Sans', sans-serif;font-size:5.4px;font-weight:normal;color:#808080;white-space:nowrap;transform:scaleX(1);transform-origin:50% 50%;">Agent-6</div>
<div style="position:absolute;left:-465.4px;width:1000px;text-align:center;top:250.1px;height:10.8px;line-height:10.8px;font-family:'Liberation Sans', sans-serif;font-size:5.4px;font-weight:normal;color:#808080;white-space:nowrap;">&gt;</div>
<div style="position:absolute;left:-80.8px;top:249.5px;width:200px;height:10.8px;line-height:10.8px;text-align:center;transform:rotate(-90deg);font-family:'Liberation Sans', sans-serif;font-size:5.4px;font-weight:normal;color:#707070;white-space:nowrap;">08-</div>
<div style="position:absolute;left:-73.5px;top:249.5px;width:200px;height:10.8px;line-height:10.8px;text-align:center;transform:rotate(-90deg);font-family:'Liberation Sans', sans-serif;font-size:5.4px;font-weight:normal;color:#707070;white-space:nowrap;">Ma</div>
<div style="position:absolute;left:67.9px;top:250.7px;width:100.6px;height:8.4px;background:#ec3a41;"></div>
<div style="position:absolute;left:173.7px;top:245.9px;height:19px;line-height:19px;font-family:'Liberation Sans', sans-serif;font-size:9.5px;font-weight:bold;color:#a8405a;white-space:nowrap;transform:scaleX(0.88);transform-origin:0 50%;">45%</div>
<div style="position:absolute;left:14.7px;top:259.95px;width:53px;height:0.7px;background:#e8e8e8;"></div>
<div style="position:absolute;left:-446.8px;width:1000px;text-align:center;top:260.8px;height:10.8px;line-height:10.8px;font-family:'Liberation Sans', sans-serif;font-size:5.4px;font-weight:normal;color:#808080;white-space:nowrap;transform:scaleX(1);transform-origin:50% 50%;">Agent-1</div>
<div style="position:absolute;left:-465.4px;width:1000px;text-align:center;top:260.8px;height:10.8px;line-height:10.8px;font-family:'Liberation Sans', sans-serif;font-size:5.4px;font-weight:normal;color:#808080;white-space:nowrap;">&gt;</div>
<div style="position:absolute;left:-80.8px;top:260.2px;width:200px;height:10.8px;line-height:10.8px;text-align:center;transform:rotate(-90deg);font-family:'Liberation Sans', sans-serif;font-size:5.4px;font-weight:normal;color:#707070;white-space:nowrap;">11-</div>
<div style="position:absolute;left:-73.5px;top:260.2px;width:200px;height:10.8px;line-height:10.8px;text-align:center;transform:rotate(-90deg);font-family:'Liberation Sans', sans-serif;font-size:5.4px;font-weight:normal;color:#707070;white-space:nowrap;">Ma</div>
<div style="position:absolute;left:67.9px;top:261.4px;width:60.1px;height:8.4px;background:#ec3a41;"></div>
<div style="position:absolute;left:133.2px;top:256.6px;height:19px;line-height:19px;font-family:'Liberation Sans', sans-serif;font-size:9.5px;font-weight:bold;color:#a8405a;white-space:nowrap;transform:scaleX(0.88);transform-origin:0 50%;">27%</div>
<div style="position:absolute;left:14.7px;top:270.65px;width:53px;height:0.7px;background:#e8e8e8;"></div>
<div style="position:absolute;left:-446.8px;width:1000px;text-align:center;top:271.5px;height:10.8px;line-height:10.8px;font-family:'Liberation Sans', sans-serif;font-size:5.4px;font-weight:normal;color:#808080;white-space:nowrap;transform:scaleX(1);transform-origin:50% 50%;">Agent-4</div>
<div style="position:absolute;left:-465.4px;width:1000px;text-align:center;top:271.5px;height:10.8px;line-height:10.8px;font-family:'Liberation Sans', sans-serif;font-size:5.4px;font-weight:normal;color:#808080;white-space:nowrap;">&gt;</div>
<div style="position:absolute;left:-80.8px;top:270.9px;width:200px;height:10.8px;line-height:10.8px;text-align:center;transform:rotate(-90deg);font-family:'Liberation Sans', sans-serif;font-size:5.4px;font-weight:normal;color:#707070;white-space:nowrap;">13-</div>
<div style="position:absolute;left:-73.5px;top:270.9px;width:200px;height:10.8px;line-height:10.8px;text-align:center;transform:rotate(-90deg);font-family:'Liberation Sans', sans-serif;font-size:5.4px;font-weight:normal;color:#707070;white-space:nowrap;">Ma</div>
<div style="position:absolute;left:67.9px;top:272.1px;width:32.5px;height:8.4px;background:#ec3a41;"></div>
<div style="position:absolute;left:105.6px;top:267.3px;height:19px;line-height:19px;font-family:'Liberation Sans', sans-serif;font-size:9.5px;font-weight:bold;color:#a8405a;white-space:nowrap;transform:scaleX(0.88);transform-origin:0 50%;">15%</div>
<div style="position:absolute;left:14.7px;top:281.35px;width:53px;height:0.7px;background:#e8e8e8;"></div>
<div style="position:absolute;left:-446.8px;width:1000px;text-align:center;top:282.2px;height:10.8px;line-height:10.8px;font-family:'Liberation Sans', sans-serif;font-size:5.4px;font-weight:normal;color:#808080;white-space:nowrap;transform:scaleX(1);transform-origin:50% 50%;">Agent-6</div>
<div style="position:absolute;left:-465.4px;width:1000px;text-align:center;top:282.2px;height:10.8px;line-height:10.8px;font-family:'Liberation Sans', sans-serif;font-size:5.4px;font-weight:normal;color:#808080;white-space:nowrap;">&gt;</div>
<div style="position:absolute;left:-80.8px;top:281.6px;width:200px;height:10.8px;line-height:10.8px;text-align:center;transform:rotate(-90deg);font-family:'Liberation Sans', sans-serif;font-size:5.4px;font-weight:normal;color:#707070;white-space:nowrap;">16-</div>
<div style="position:absolute;left:-73.5px;top:281.6px;width:200px;height:10.8px;line-height:10.8px;text-align:center;transform:rotate(-90deg);font-family:'Liberation Sans', sans-serif;font-size:5.4px;font-weight:normal;color:#707070;white-space:nowrap;">Ma</div>
<div style="position:absolute;left:67.9px;top:282.8px;width:34.7px;height:8.4px;background:#ec3a41;"></div>
<div style="position:absolute;left:107.8px;top:278px;height:19px;line-height:19px;font-family:'Liberation Sans', sans-serif;font-size:9.5px;font-weight:bold;color:#a8405a;white-space:nowrap;transform:scaleX(0.88);transform-origin:0 50%;">16%</div>
<div style="position:absolute;left:14.7px;top:292.05px;width:53px;height:0.7px;background:#e8e8e8;"></div>
<div style="position:absolute;left:-446.8px;width:1000px;text-align:center;top:292.9px;height:10.8px;line-height:10.8px;font-family:'Liberation Sans', sans-serif;font-size:5.4px;font-weight:normal;color:#808080;white-space:nowrap;transform:scaleX(1);transform-origin:50% 50%;">Agent-5</div>
<div style="position:absolute;left:-465.4px;width:1000px;text-align:center;top:292.9px;height:10.8px;line-height:10.8px;font-family:'Liberation Sans', sans-serif;font-size:5.4px;font-weight:normal;color:#808080;white-space:nowrap;">&gt;</div>
<div style="position:absolute;left:-80.8px;top:292.3px;width:200px;height:10.8px;line-height:10.8px;text-align:center;transform:rotate(-90deg);font-family:'Liberation Sans', sans-serif;font-size:5.4px;font-weight:normal;color:#707070;white-space:nowrap;">19-</div>
<div style="position:absolute;left:-73.5px;top:292.3px;width:200px;height:10.8px;line-height:10.8px;text-align:center;transform:rotate(-90deg);font-family:'Liberation Sans', sans-serif;font-size:5.4px;font-weight:normal;color:#707070;white-space:nowrap;">Ma</div>
<div style="position:absolute;left:67.9px;top:293.5px;width:36.8px;height:8.4px;background:#ec3a41;"></div>
<div style="position:absolute;left:109.9px;top:288.7px;height:19px;line-height:19px;font-family:'Liberation Sans', sans-serif;font-size:9.5px;font-weight:bold;color:#a8405a;white-space:nowrap;transform:scaleX(0.88);transform-origin:0 50%;">17%</div>
<div style="position:absolute;left:14.7px;top:302.75px;width:53px;height:0.7px;background:#e8e8e8;"></div>
<div style="position:absolute;left:-446.8px;width:1000px;text-align:center;top:303.6px;height:10.8px;line-height:10.8px;font-family:'Liberation Sans', sans-serif;font-size:5.4px;font-weight:normal;color:#808080;white-space:nowrap;transform:scaleX(1);transform-origin:50% 50%;">Agent-6</div>
<div style="position:absolute;left:-465.4px;width:1000px;text-align:center;top:303.6px;height:10.8px;line-height:10.8px;font-family:'Liberation Sans', sans-serif;font-size:5.4px;font-weight:normal;color:#808080;white-space:nowrap;">&gt;</div>
<div style="position:absolute;left:-80.8px;top:303px;width:200px;height:10.8px;line-height:10.8px;text-align:center;transform:rotate(-90deg);font-family:'Liberation Sans', sans-serif;font-size:5.4px;font-weight:normal;color:#707070;white-space:nowrap;">20-</div>
<div style="position:absolute;left:-73.5px;top:303px;width:200px;height:10.8px;line-height:10.8px;text-align:center;transform:rotate(-90deg);font-family:'Liberation Sans', sans-serif;font-size:5.4px;font-weight:normal;color:#707070;white-space:nowrap;">Ma</div>
<div style="position:absolute;left:67.9px;top:304.2px;width:46.3px;height:8.4px;background:#ec3a41;"></div>
<div style="position:absolute;left:119.4px;top:299.4px;height:19px;line-height:19px;font-family:'Liberation Sans', sans-serif;font-size:9.5px;font-weight:bold;color:#a8405a;white-space:nowrap;transform:scaleX(0.88);transform-origin:0 50%;">21%</div>
<div style="position:absolute;left:14.7px;top:313.45px;width:53px;height:0.7px;background:#e8e8e8;"></div>
<div style="position:absolute;left:-446.8px;width:1000px;text-align:center;top:314.3px;height:10.8px;line-height:10.8px;font-family:'Liberation Sans', sans-serif;font-size:5.4px;font-weight:normal;color:#808080;white-space:nowrap;transform:scaleX(1);transform-origin:50% 50%;">Agent-6</div>
<div style="position:absolute;left:-465.4px;width:1000px;text-align:center;top:314.3px;height:10.8px;line-height:10.8px;font-family:'Liberation Sans', sans-serif;font-size:5.4px;font-weight:normal;color:#808080;white-space:nowrap;">&gt;</div>
<div style="position:absolute;left:-80.8px;top:313.7px;width:200px;height:10.8px;line-height:10.8px;text-align:center;transform:rotate(-90deg);font-family:'Liberation Sans', sans-serif;font-size:5.4px;font-weight:normal;color:#707070;white-space:nowrap;">24-</div>
<div style="position:absolute;left:-73.5px;top:313.7px;width:200px;height:10.8px;line-height:10.8px;text-align:center;transform:rotate(-90deg);font-family:'Liberation Sans', sans-serif;font-size:5.4px;font-weight:normal;color:#707070;white-space:nowrap;">Ma</div>
<div style="position:absolute;left:67.9px;top:314.9px;width:98.8px;height:8.4px;background:#ec3a41;"></div>
<div style="position:absolute;left:171.9px;top:310.1px;height:19px;line-height:19px;font-family:'Liberation Sans', sans-serif;font-size:9.5px;font-weight:bold;color:#a8405a;white-space:nowrap;transform:scaleX(0.88);transform-origin:0 50%;">44%</div>
<div style="position:absolute;left:14.7px;top:324.15px;width:53px;height:0.7px;background:#e8e8e8;"></div>
<div style="position:absolute;left:-446.8px;width:1000px;text-align:center;top:325px;height:10.8px;line-height:10.8px;font-family:'Liberation Sans', sans-serif;font-size:5.4px;font-weight:normal;color:#808080;white-space:nowrap;transform:scaleX(1);transform-origin:50% 50%;">Agent-4</div>
<div style="position:absolute;left:-465.4px;width:1000px;text-align:center;top:325px;height:10.8px;line-height:10.8px;font-family:'Liberation Sans', sans-serif;font-size:5.4px;font-weight:normal;color:#808080;white-space:nowrap;">&gt;</div>
<div style="position:absolute;left:-80.8px;top:324.4px;width:200px;height:10.8px;line-height:10.8px;text-align:center;transform:rotate(-90deg);font-family:'Liberation Sans', sans-serif;font-size:5.4px;font-weight:normal;color:#707070;white-space:nowrap;">25-</div>
<div style="position:absolute;left:-73.5px;top:324.4px;width:200px;height:10.8px;line-height:10.8px;text-align:center;transform:rotate(-90deg);font-family:'Liberation Sans', sans-serif;font-size:5.4px;font-weight:normal;color:#707070;white-space:nowrap;">Ma</div>
<div style="position:absolute;left:67.9px;top:325.6px;width:32.5px;height:8.4px;background:#ec3a41;"></div>
<div style="position:absolute;left:105.6px;top:320.8px;height:19px;line-height:19px;font-family:'Liberation Sans', sans-serif;font-size:9.5px;font-weight:bold;color:#a8405a;white-space:nowrap;transform:scaleX(0.88);transform-origin:0 50%;">15%</div>
<div style="position:absolute;left:14.7px;top:334.85px;width:53px;height:0.7px;background:#e8e8e8;"></div>
<div style="position:absolute;left:-446.8px;width:1000px;text-align:center;top:335.7px;height:10.8px;line-height:10.8px;font-family:'Liberation Sans', sans-serif;font-size:5.4px;font-weight:normal;color:#808080;white-space:nowrap;transform:scaleX(1);transform-origin:50% 50%;">Agent-3</div>
<div style="position:absolute;left:-465.4px;width:1000px;text-align:center;top:335.7px;height:10.8px;line-height:10.8px;font-family:'Liberation Sans', sans-serif;font-size:5.4px;font-weight:normal;color:#808080;white-space:nowrap;">&gt;</div>
<div style="position:absolute;left:-80.8px;top:335.1px;width:200px;height:10.8px;line-height:10.8px;text-align:center;transform:rotate(-90deg);font-family:'Liberation Sans', sans-serif;font-size:5.4px;font-weight:normal;color:#707070;white-space:nowrap;">28-</div>
<div style="position:absolute;left:-73.5px;top:335.1px;width:200px;height:10.8px;line-height:10.8px;text-align:center;transform:rotate(-90deg);font-family:'Liberation Sans', sans-serif;font-size:5.4px;font-weight:normal;color:#707070;white-space:nowrap;">Ma</div>
<div style="position:absolute;left:67.9px;top:336.3px;width:98.8px;height:8.4px;background:#ec3a41;"></div>
<div style="position:absolute;left:171.9px;top:331.5px;height:19px;line-height:19px;font-family:'Liberation Sans', sans-serif;font-size:9.5px;font-weight:bold;color:#a8405a;white-space:nowrap;transform:scaleX(0.88);transform-origin:0 50%;">44%</div>
</div>
<div style="position:absolute;left:161.7px;top:41.2px;width:104.6px;height:198.1px;background:#fff;box-shadow:0 0 0 .7px #c4c4c4,1px 1px 0 #8c8c8c,1px 2px 2px rgba(0,0,0,.3);overflow:hidden;">
<div style="position:absolute;left:8.9px;top:19.8px;width:87.4px;height:1.3px;background:#6f7f90;"></div>
<div style="position:absolute;left:8.9px;top:19.8px;width:1px;height:84.3px;background:#8a9bb0;"></div>
<div style="position:absolute;left:8.9px;top:103.1px;width:87.4px;height:1px;background:#8a9bb0;"></div>
<div style="position:absolute;left:13.5px;top:21.3px;height:13.6px;line-height:13.6px;font-family:'Liberation Sans', sans-serif;font-size:6.8px;font-weight:bold;color:#1a1a1a;white-space:nowrap;">FY</div>
<div style="position:absolute;left:13.7px;top:34px;width:79.2px;height:1.7px;background:#8497b0;"></div>
<div style="position:absolute;left:13.7px;top:38.3px;width:79.2px;height:13.1px;background:#b4c6e7;box-sizing:border-box;border:1px solid #8d9db8;"></div>
<div style="position:absolute;left:18.9px;top:38.25px;height:14.4px;line-height:14.4px;font-family:'Liberation Sans', sans-serif;font-size:7.2px;font-weight:normal;color:#333;white-space:nowrap;">2018-19</div>
<div style="position:absolute;left:13.7px;top:54px;width:79.2px;height:12.8px;background:#b4c6e7;box-sizing:border-box;border:1px solid #8d9db8;"></div>
<div style="position:absolute;left:18.9px;top:53.8px;height:14.4px;line-height:14.4px;font-family:'Liberation Sans', sans-serif;font-size:7.2px;font-weight:normal;color:#333;white-space:nowrap;">2019-20</div>
<div style="position:absolute;left:13.7px;top:69.4px;width:79.2px;height:13px;background:#b4c6e7;box-sizing:border-box;border:1px solid #8d9db8;"></div>
<div style="position:absolute;left:18.9px;top:69.3px;height:14.4px;line-height:14.4px;font-family:'Liberation Sans', sans-serif;font-size:7.2px;font-weight:normal;color:#333;white-space:nowrap;">2020-21</div>
<div style="position:absolute;left:9.5px;top:107.4px;width:86.8px;height:1.3px;background:#6f7f90;"></div>
<div style="position:absolute;left:9.5px;top:107.4px;width:1px;height:82.9px;background:#8a9bb0;"></div>
<div style="position:absolute;left:14.1px;top:109px;height:13.6px;line-height:13.6px;font-family:'Liberation Sans', sans-serif;font-size:6.8px;font-weight:bold;color:#1a1a1a;white-space:nowrap;">City</div>
<div style="position:absolute;left:14.3px;top:121px;width:78px;height:1.7px;background:#8497b0;"></div>
<div style="position:absolute;left:14.3px;top:125.3px;width:78px;height:13px;background:#b4c6e7;box-sizing:border-box;border:1px solid #8d9db8;"></div>
<div style="position:absolute;left:19.5px;top:125.2px;height:14.4px;line-height:14.4px;font-family:'Liberation Sans', sans-serif;font-size:7.2px;font-weight:normal;color:#333;white-space:nowrap;">Dehli</div>
<div style="position:absolute;left:14.3px;top:140.8px;width:78px;height:13px;background:#b4c6e7;box-sizing:border-box;border:1px solid #8d9db8;"></div>
<div style="position:absolute;left:19.5px;top:140.7px;height:14.4px;line-height:14.4px;font-family:'Liberation Sans', sans-serif;font-size:7.2px;font-weight:normal;color:#333;white-space:nowrap;">Lahor</div>
<div style="position:absolute;left:14.3px;top:156.3px;width:78px;height:13px;background:#b4c6e7;box-sizing:border-box;border:1px solid #8d9db8;"></div>
<div style="position:absolute;left:19.5px;top:156.2px;height:14.4px;line-height:14.4px;font-family:'Liberation Sans', sans-serif;font-size:7.2px;font-weight:normal;color:#333;white-space:nowrap;">Paris</div>
<div style="position:absolute;left:14.3px;top:171.6px;width:78px;height:13px;background:#b4c6e7;box-sizing:border-box;border:1px solid #8d9db8;"></div>
<div style="position:absolute;left:19.5px;top:171.5px;height:14.4px;line-height:14.4px;font-family:'Liberation Sans', sans-serif;font-size:7.2px;font-weight:normal;color:#333;white-space:nowrap;">San Francisco</div>
</div>
<div style="position:absolute;left:383.6px;top:221.5px;width:229.4px;height:197px;background:#fff;box-shadow:0 0 0 .7px #c4c4c4,1px 1px 0 #8c8c8c,1px 2px 2px rgba(0,0,0,.3);overflow:hidden;">
<div style="position:absolute;left:0px;top:4.3px;width:228.8px;height:15.2px;background:#36afe6;"></div>
<div style="position:absolute;left:-384.6px;width:1000px;text-align:center;top:3px;height:17.8px;line-height:17.8px;font-family:'Liberation Sans', sans-serif;font-size:8.9px;font-weight:bold;color:#1b365d;white-space:nowrap;transform:scaleX(1.03);transform-origin:50% 50%;">AVERAGE HANDLE TIME (AHT)</div>
<svg style="position:absolute;left:3.9px;top:30.3px;overflow:visible" width="94" height="47.2" viewBox="387.5 251.8 94 47.2">
<path d="M445.39 255.08 A45 43.2 0 0 1 479.5 297 L456.7 297 A22.2 22 0 0 0 439.87 275.65 Z" fill="#fff" stroke="#bdbdbd" stroke-width="1.3"/>
<path d="M389.5 297 A45 43.2 0 0 1 445.39 255.08 L439.87 275.65 A22.2 22 0 0 0 412.3 297 Z" fill="#7e4fa5" stroke="#6a3f90" stroke-width=".6"/>
</svg>
<svg style="position:absolute;left:41.4px;top:28.5px;overflow:visible" width="25" height="50" viewBox="425 250 25 50">
<path d="M433.8 296.6 L444.4 253.6" stroke="#1a1a1a" stroke-width="2.2" stroke-linecap="round"/>
</svg>
<div style="position:absolute;left:-453.9px;width:1000px;text-align:center;top:73.6px;height:25px;line-height:25px;font-family:'Liberation Sans', sans-serif;font-size:12.5px;font-weight:bold;color:#6c4f8f;white-space:nowrap;transform:scaleX(1.01);transform-origin:50% 50%;">AHT 57</div>
<div style="position:absolute;left:112.4px;top:43.1px;height:13.6px;line-height:13.6px;font-family:'Liberation Sans', sans-serif;font-size:6.8px;font-weight:normal;color:#1a1a1a;white-space:nowrap;transform:scaleX(0.97);transform-origin:0 50%;">Target AHT</div>
<div style="position:absolute;left:112.4px;top:58.6px;height:13.6px;line-height:13.6px;font-family:'Liberation Sans', sans-serif;font-size:6.8px;font-weight:normal;color:#3da56a;white-space:nowrap;transform:scaleX(0.95);transform-origin:0 50%;">Current AHT</div>
<div style="position:absolute;left:180px;top:37.6px;height:24px;line-height:24px;font-family:'Liberation Sans', sans-serif;font-size:12px;font-weight:normal;color:#1a1a1a;white-space:nowrap;transform:scaleX(0.97);transform-origin:0 50%;">59</div>
<div style="position:absolute;left:180px;top:53.1px;height:24px;line-height:24px;font-family:'Liberation Sans', sans-serif;font-size:12px;font-weight:bold;color:#2f9a5a;white-space:nowrap;transform:scaleX(0.97);transform-origin:0 50%;">57</div>
<svg style="position:absolute;left:155.4px;top:40.5px;overflow:visible" width="21" height="17" viewBox="539 262 21 17">
<ellipse cx="548" cy="271" rx="8" ry="5.2" fill="none" stroke="#333" stroke-width="1.4"/><ellipse cx="548" cy="271" rx="5" ry="3.2" fill="none" stroke="#333" stroke-width="1.3"/><ellipse cx="548" cy="271" rx="2" ry="1.4" fill="#333"/><path d="M548 271 L557 264" stroke="#333" stroke-width="1.2"/>
</svg>
<div style="position:absolute;left:157.4px;top:59.1px;width:11px;height:11px;background:#5aa57a;border-radius:50%;"></div>
<svg style="position:absolute;left:157.4px;top:58.5px;overflow:visible" width="12" height="12" viewBox="541 280 12 12">
<path d="M543.8 286.2 L546 288.4 L549.8 283.4" fill="none" stroke="#fff" stroke-width="1.5"/>
</svg>
<div style="position:absolute;left:10.6px;top:125.3px;width:22.4px;height:47.2px;background:linear-gradient(90deg,#62458f 0%,#7a52a2 8%,#7d53a4 60%,#7a51a0 86%,#5c4680 92%,#4f3d6e 100%);box-sizing:border-box;border-top:1px solid #4e3a6b;box-shadow:inset 0 1.3px 0 #a27ec8;"></div>
<div style="position:absolute;left:42.4px;top:114.6px;width:22.1px;height:57.9px;background:linear-gradient(90deg,#62458f 0%,#7a52a2 8%,#7d53a4 60%,#7a51a0 86%,#5c4680 92%,#4f3d6e 100%);box-sizing:border-box;border-top:1px solid #4e3a6b;box-shadow:inset 0 1.3px 0 #a27ec8;"></div>
<div style="position:absolute;left:74px;top:114.6px;width:22px;height:57.9px;background:linear-gradient(90deg,#62458f 0%,#7a52a2 8%,#7d53a4 60%,#7a51a0 86%,#5c4680 92%,#4f3d6e 100%);box-sizing:border-box;border-top:1px solid #4e3a6b;box-shadow:inset 0 1.3px 0 #a27ec8;"></div>
<div style="position:absolute;left:105.2px;top:118.1px;width:22.4px;height:54.4px;background:linear-gradient(90deg,#62458f 0%,#7a52a2 8%,#7d53a4 60%,#7a51a0 86%,#5c4680 92%,#4f3d6e 100%);box-sizing:border-box;border-top:1px solid #4e3a6b;box-shadow:inset 0 1.3px 0 #a27ec8;"></div>
<div style="position:absolute;left:136.8px;top:109.5px;width:22.3px;height:63px;background:linear-gradient(90deg,#62458f 0%,#7a52a2 8%,#7d53a4 60%,#7a51a0 86%,#5c4680 92%,#4f3d6e 100%);box-sizing:border-box;border-top:1px solid #4e3a6b;box-shadow:inset 0 1.3px 0 #a27ec8;"></div>
<div style="position:absolute;left:168.3px;top:109.8px;width:22.4px;height:62.7px;background:linear-gradient(90deg,#62458f 0%,#7a52a2 8%,#7d53a4 60%,#7a51a0 86%,#5c4680 92%,#4f3d6e 100%);box-sizing:border-box;border-top:1px solid #4e3a6b;box-shadow:inset 0 1.3px 0 #a27ec8;"></div>
<div style="position:absolute;left:200.1px;top:128.1px;width:22.1px;height:44.4px;background:linear-gradient(90deg,#62458f 0%,#7a52a2 8%,#7d53a4 60%,#7a51a0 86%,#5c4680 92%,#4f3d6e 100%);box-sizing:border-box;border-top:1px solid #4e3a6b;box-shadow:inset 0 1.3px 0 #a27ec8;"></div>
<div style="position:absolute;left:-478.2px;width:1000px;text-align:center;top:111.6px;height:20px;line-height:20px;font-family:'Liberation Sans', sans-serif;font-size:10px;font-weight:normal;color:#5d4b80;white-space:nowrap;">50</div>
<div style="position:absolute;left:-478.2px;width:1000px;text-align:center;top:177.4px;height:14.4px;line-height:14.4px;font-family:'Liberation Sans', sans-serif;font-size:7.2px;font-weight:normal;color:#7f7f7f;white-space:nowrap;transform:scaleX(0.95);transform-origin:50% 50%;">Agent-1</div>
<div style="position:absolute;left:-446.55px;width:1000px;text-align:center;top:95.1px;height:20px;line-height:20px;font-family:'Liberation Sans', sans-serif;font-size:10px;font-weight:normal;color:#5d4b80;white-space:nowrap;">61</div>
<div style="position:absolute;left:-446.55px;width:1000px;text-align:center;top:177.4px;height:14.4px;line-height:14.4px;font-family:'Liberation Sans', sans-serif;font-size:7.2px;font-weight:normal;color:#7f7f7f;white-space:nowrap;transform:scaleX(0.95);transform-origin:50% 50%;">Agent-2</div>
<div style="position:absolute;left:-415px;width:1000px;text-align:center;top:95.1px;height:20px;line-height:20px;font-family:'Liberation Sans', sans-serif;font-size:10px;font-weight:normal;color:#5d4b80;white-space:nowrap;">61</div>
<div style="position:absolute;left:-415px;width:1000px;text-align:center;top:177.4px;height:14.4px;line-height:14.4px;font-family:'Liberation Sans', sans-serif;font-size:7.2px;font-weight:normal;color:#7f7f7f;white-space:nowrap;transform:scaleX(0.95);transform-origin:50% 50%;">Agent-3</div>
<div style="position:absolute;left:-383.6px;width:1000px;text-align:center;top:97.1px;height:20px;line-height:20px;font-family:'Liberation Sans', sans-serif;font-size:10px;font-weight:normal;color:#5d4b80;white-space:nowrap;">58</div>
<div style="position:absolute;left:-383.6px;width:1000px;text-align:center;top:177.4px;height:14.4px;line-height:14.4px;font-family:'Liberation Sans', sans-serif;font-size:7.2px;font-weight:normal;color:#7f7f7f;white-space:nowrap;transform:scaleX(0.95);transform-origin:50% 50%;">Agent-4</div>
<div style="position:absolute;left:-352.05px;width:1000px;text-align:center;top:88.9px;height:20px;line-height:20px;font-family:'Liberation Sans', sans-serif;font-size:10px;font-weight:normal;color:#5d4b80;white-space:nowrap;">67</div>
<div style="position:absolute;left:-352.05px;width:1000px;text-align:center;top:177.4px;height:14.4px;line-height:14.4px;font-family:'Liberation Sans', sans-serif;font-size:7.2px;font-weight:normal;color:#7f7f7f;white-space:nowrap;transform:scaleX(0.95);transform-origin:50% 50%;">Agent-5</div>
<div style="position:absolute;left:-320.5px;width:1000px;text-align:center;top:89.5px;height:20px;line-height:20px;font-family:'Liberation Sans', sans-serif;font-size:10px;font-weight:normal;color:#5d4b80;white-space:nowrap;">66</div>
<div style="position:absolute;left:-320.5px;width:1000px;text-align:center;top:177.4px;height:14.4px;line-height:14.4px;font-family:'Liberation Sans', sans-serif;font-size:7.2px;font-weight:normal;color:#7f7f7f;white-space:nowrap;transform:scaleX(0.95);transform-origin:50% 50%;">Agent-6</div>
<div style="position:absolute;left:-288.85px;width:1000px;text-align:center;top:113.8px;height:20px;line-height:20px;font-family:'Liberation Sans', sans-serif;font-size:10px;font-weight:normal;color:#5d4b80;white-space:nowrap;">47</div>
<div style="position:absolute;left:-288.85px;width:1000px;text-align:center;top:177.4px;height:14.4px;line-height:14.4px;font-family:'Liberation Sans', sans-serif;font-size:7.2px;font-weight:normal;color:#7f7f7f;white-space:nowrap;transform:scaleX(0.95);transform-origin:50% 50%;">Agent-7</div>
<div style="position:absolute;left:21.4px;top:115.1px;width:190.2px;height:2px;background:#d8323c;"></div>
</div>
<div style="position:absolute;left:612.8px;top:223.4px;width:149.2px;height:206.6px;background:#fff;box-shadow:0 0 0 .7px #c4c4c4,1px 1px 0 #8c8c8c,1px 2px 2px rgba(0,0,0,.3);overflow:hidden;">
<div style="position:absolute;left:8.2px;top:9.8px;width:135.2px;height:9px;background:#36afe6;"></div>
<div style="position:absolute;left:-424.2px;width:1000px;text-align:center;top:8.3px;height:12px;line-height:12px;font-family:'Liberation Sans', sans-serif;font-size:6px;font-weight:bold;color:#1b365d;white-space:nowrap;transform:scaleX(0.88);transform-origin:50% 50%;">TRANSFER RATE</div>
<div style="position:absolute;left:-979.8px;width:1000px;text-align:right;top:25.8px;height:9.6px;line-height:9.6px;font-family:'Liberation Sans', sans-serif;font-size:4.8px;font-weight:bold;color:#595959;white-space:nowrap;transform:scaleX(0.78);transform-origin:100% 50%;">50%</div>
<div style="position:absolute;left:-979.8px;width:1000px;text-align:right;top:37.32px;height:9.6px;line-height:9.6px;font-family:'Liberation Sans', sans-serif;font-size:4.8px;font-weight:bold;color:#595959;white-space:nowrap;transform:scaleX(0.78);transform-origin:100% 50%;">40%</div>
<div style="position:absolute;left:-979.8px;width:1000px;text-align:right;top:48.84px;height:9.6px;line-height:9.6px;font-family:'Liberation Sans', sans-serif;font-size:4.8px;font-weight:bold;color:#595959;white-space:nowrap;transform:scaleX(0.78);transform-origin:100% 50%;">30%</div>
<div style="position:absolute;left:-979.8px;width:1000px;text-align:right;top:60.36px;height:9.6px;line-height:9.6px;font-family:'Liberation Sans', sans-serif;font-size:4.8px;font-weight:bold;color:#595959;white-space:nowrap;transform:scaleX(0.78);transform-origin:100% 50%;">20%</div>
<div style="position:absolute;left:-979.8px;width:1000px;text-align:right;top:71.88px;height:9.6px;line-height:9.6px;font-family:'Liberation Sans', sans-serif;font-size:4.8px;font-weight:bold;color:#595959;white-space:nowrap;transform:scaleX(0.78);transform-origin:100% 50%;">10%</div>
<div style="position:absolute;left:-979.8px;width:1000px;text-align:right;top:83.4px;height:9.6px;line-height:9.6px;font-family:'Liberation Sans', sans-serif;font-size:4.8px;font-weight:bold;color:#595959;white-space:nowrap;transform:scaleX(0.79);transform-origin:100% 50%;">0%</div>
<div style="position:absolute;left:23.2px;top:88.4px;width:116px;height:0.5px;background:#e0e0e0;"></div>
<div style="position:absolute;left:-472.4px;width:1000px;text-align:center;top:91px;height:9.6px;line-height:9.6px;font-family:'Liberation Sans', sans-serif;font-size:4.8px;font-weight:bold;color:#595959;white-space:nowrap;transform:scaleX(1.01);transform-origin:50% 50%;">01-May</div>
<div style="position:absolute;left:-446.5px;width:1000px;text-align:center;top:91px;height:9.6px;line-height:9.6px;font-family:'Liberation Sans', sans-serif;font-size:4.8px;font-weight:bold;color:#595959;white-space:nowrap;transform:scaleX(1.01);transform-origin:50% 50%;">08-May</div>
<div style="position:absolute;left:-420.6px;width:1000px;text-align:center;top:91px;height:9.6px;line-height:9.6px;font-family:'Liberation Sans', sans-serif;font-size:4.8px;font-weight:bold;color:#595959;white-space:nowrap;transform:scaleX(1.01);transform-origin:50% 50%;">15-May</div>
<div style="position:absolute;left:-394.7px;width:1000px;text-align:center;top:91px;height:9.6px;line-height:9.6px;font-family:'Liberation Sans', sans-serif;font-size:4.8px;font-weight:bold;color:#595959;white-space:nowrap;transform:scaleX(1.01);transform-origin:50% 50%;">22-May</div>
<div style="position:absolute;left:-368.8px;width:1000px;text-align:center;top:91px;height:9.6px;line-height:9.6px;font-family:'Liberation Sans', sans-serif;font-size:4.8px;font-weight:bold;color:#595959;white-space:nowrap;transform:scaleX(1.01);transform-origin:50% 50%;">29-May</div>
<svg style="position:absolute;left:0px;top:0px;overflow:visible" width="149.2" height="206.6" viewBox="612.8 223.4 149.2 206.6">
<polyline fill="none" stroke="#6c4896" stroke-width="1.6" stroke-linejoin="round" points="640,296.21 644.2,306.85 651.21,307.41 655.41,287.25 659.61,308.81 662.41,304.61 666.05,258.41 669.97,299.01 673.61,304.05 677.25,279.97 681.17,296.21 684.81,294.81 688.45,304.05 692.37,296.21 696.01,293.41 699.65,302.37 703.57,303.21 707.21,294.81 710.85,287.25 714.77,296.21 718.41,306.85 722.05,307.41 725.97,259.81 729.61,294.81 733.26,304.05 737.18,299.01 740.82,259.81 744.46,302.37 748.38,286.41" />
</svg>
<div style="position:absolute;left:10.4px;top:100px;height:12.4px;line-height:12.4px;font-family:'Liberation Sans', sans-serif;font-size:6.2px;font-weight:bold;color:#1a1a1a;white-space:nowrap;transform:scaleX(0.94);transform-origin:0 50%;">Average Transfer Rate MTD</div>
<div style="position:absolute;left:104.2px;top:100px;height:12.4px;line-height:12.4px;font-family:'Liberation Sans', sans-serif;font-size:6.2px;font-weight:bold;color:#1a1a1a;white-space:nowrap;">15%</div>
<div style="position:absolute;left:10.4px;top:108.1px;height:12.4px;line-height:12.4px;font-family:'Liberation Sans', sans-serif;font-size:6.2px;font-weight:bold;color:#b8475a;white-space:nowrap;transform:scaleX(1);transform-origin:0 50%;">Highest Transfer Rate</div>
<div style="position:absolute;left:104.2px;top:108.1px;height:12.4px;line-height:12.4px;font-family:'Liberation Sans', sans-serif;font-size:6.2px;font-weight:bold;color:#b8475a;white-space:nowrap;">45%</div>
<div style="position:absolute;left:10.4px;top:116.5px;height:12.4px;line-height:12.4px;font-family:'Liberation Sans', sans-serif;font-size:6.2px;font-weight:bold;color:#b8475a;white-space:nowrap;transform:scaleX(1.04);transform-origin:0 50%;">Highest Transferr Date</div>
<div style="position:absolute;left:104.2px;top:116.5px;height:12.4px;line-height:12.4px;font-family:'Liberation Sans', sans-serif;font-size:6.2px;font-weight:bold;color:#b8475a;white-space:nowrap;transform:scaleX(1);transform-origin:0 50%;">08-May</div>
<div style="position:absolute;left:8.2px;top:133px;width:135.2px;height:7.9px;background:#36afe6;"></div>
<div style="position:absolute;left:-424.2px;width:1000px;text-align:center;top:130.95px;height:12px;line-height:12px;font-family:'Liberation Sans', sans-serif;font-size:6px;font-weight:bold;color:#1b365d;white-space:nowrap;transform:scaleX(0.89);transform-origin:50% 50%;">AVERAGE SPEED OF ANSWER (ASA)</div>
<div style="position:absolute;left:31.2px;top:146.9px;width:12px;height:1.8px;background:#7b4ea8;"></div>
<div style="position:absolute;left:43.7px;top:143.5px;height:10px;line-height:10px;font-family:'Liberation Sans', sans-serif;font-size:5px;font-weight:normal;color:#595959;white-space:nowrap;transform:scaleX(0.92);transform-origin:0 50%;">ASA-Daily Avg.</div>
<div style="position:absolute;left:86.2px;top:146.9px;width:13px;height:1.8px;background:#d8323c;"></div>
<div style="position:absolute;left:99.5px;top:143.5px;height:10px;line-height:10px;font-family:'Liberation Sans', sans-serif;font-size:5px;font-weight:normal;color:#595959;white-space:nowrap;transform:scaleX(0.91);transform-origin:0 50%;">ASA-SLA Limit</div>
<div style="position:absolute;left:-984.8px;width:1000px;text-align:right;top:147.2px;height:9.2px;line-height:9.2px;font-family:'Liberation Sans', sans-serif;font-size:4.6px;font-weight:normal;color:#7f7f7f;white-space:nowrap;">50</div>
<div style="position:absolute;left:-984.8px;width:1000px;text-align:right;top:159.63px;height:9.2px;line-height:9.2px;font-family:'Liberation Sans', sans-serif;font-size:4.6px;font-weight:normal;color:#7f7f7f;white-space:nowrap;">40</div>
<div style="position:absolute;left:-984.8px;width:1000px;text-align:right;top:172.06px;height:9.2px;line-height:9.2px;font-family:'Liberation Sans', sans-serif;font-size:4.6px;font-weight:normal;color:#7f7f7f;white-space:nowrap;">30</div>
<div style="position:absolute;left:-984.8px;width:1000px;text-align:right;top:184.49px;height:9.2px;line-height:9.2px;font-family:'Liberation Sans', sans-serif;font-size:4.6px;font-weight:normal;color:#7f7f7f;white-space:nowrap;">20</div>
<div style="position:absolute;left:-984.8px;width:1000px;text-align:right;top:196.92px;height:9.2px;line-height:9.2px;font-family:'Liberation Sans', sans-serif;font-size:4.6px;font-weight:normal;color:#7f7f7f;white-space:nowrap;">10</div>
<div style="position:absolute;left:20.2px;top:176.9px;width:111.5px;height:2.5px;background:#d8323c;"></div>
<svg style="position:absolute;left:0px;top:0px;overflow:visible" width="149.2" height="206.6" viewBox="612.8 223.4 149.2 206.6">
<polyline fill="none" stroke="#6c4896" stroke-width="1.6" stroke-linejoin="round" points="640.84,423.63 644.2,405.42 648.41,386.38 652.61,391.42 656.81,404.02 660.17,399.82 663.81,409.62 668.01,399.26 672.21,402.06 675.57,406.82 679.21,407.66 683.41,398.42 686.77,394.22 690.41,386.38 694.05,405.42 697.97,402.62 701.61,389.18 705.25,405.98 709.17,391.42 712.81,404.86 716.45,407.66 720.37,405.42 724.01,400.38 727.65,407.66 731.58,391.42 735.22,411.02 738.86,411.86 743.62,407.66" />
</svg>
</div>
<div style="position:absolute;left:770px;top:436px;width:225.5px;height:135px;background:#fff;box-shadow:0 0 0 .7px #c4c4c4,1px 1px 0 #8c8c8c,1px 2px 2px rgba(0,0,0,.3);overflow:hidden;">
<div style="position:absolute;left:39.2px;top:0px;width:177.3px;height:16.5px;background:#36afe6;"></div>
<div style="position:absolute;left:-388px;width:1000px;text-align:center;top:-1.15px;height:18.8px;line-height:18.8px;font-family:'Liberation Sans', sans-serif;font-size:9.4px;font-weight:bold;color:#1b365d;white-space:nowrap;transform:scaleX(0.88);transform-origin:50% 50%;">CSAT AGENT WISE</div>
<div style="position:absolute;left:61.8px;top:33.8px;width:108px;height:11.2px;background:linear-gradient(180deg,#4e3a6b 0,#4e3a6b .8px,#a27ec8 .8px,#8c62b2 2.4px,#7c50a2 3.6px,#7b4fa1 80%,#5a3a7c 100%);box-sizing:border-box;border-right:1px solid #4e3a6b;"></div>
<div style="position:absolute;left:-945.7px;width:1000px;text-align:right;top:32.8px;height:14.4px;line-height:14.4px;font-family:'Liberation Sans', sans-serif;font-size:7.2px;font-weight:normal;color:#595959;white-space:nowrap;transform:scaleX(1);transform-origin:100% 50%;">Agent-7</div>
<div style="position:absolute;left:174.1px;top:31.6px;height:17.6px;line-height:17.6px;font-family:'Liberation Sans', sans-serif;font-size:8.8px;font-weight:normal;color:#505050;white-space:nowrap;">18</div>
<div style="position:absolute;left:61.8px;top:49.7px;width:102.2px;height:11.2px;background:linear-gradient(180deg,#4e3a6b 0,#4e3a6b .8px,#a27ec8 .8px,#8c62b2 2.4px,#7c50a2 3.6px,#7b4fa1 80%,#5a3a7c 100%);box-sizing:border-box;border-right:1px solid #4e3a6b;"></div>
<div style="position:absolute;left:-945.7px;width:1000px;text-align:right;top:48.7px;height:14.4px;line-height:14.4px;font-family:'Liberation Sans', sans-serif;font-size:7.2px;font-weight:normal;color:#595959;white-space:nowrap;transform:scaleX(1);transform-origin:100% 50%;">Agent-6</div>
<div style="position:absolute;left:168.3px;top:47.5px;height:17.6px;line-height:17.6px;font-family:'Liberation Sans', sans-serif;font-size:8.8px;font-weight:normal;color:#505050;white-space:nowrap;">17</div>
<div style="position:absolute;left:61.8px;top:65.5px;width:59.7px;height:11.2px;background:linear-gradient(180deg,#4e3a6b 0,#4e3a6b .8px,#a27ec8 .8px,#8c62b2 2.4px,#7c50a2 3.6px,#7b4fa1 80%,#5a3a7c 100%);box-sizing:border-box;border-right:1px solid #4e3a6b;"></div>
<div style="position:absolute;left:-945.7px;width:1000px;text-align:right;top:64.5px;height:14.4px;line-height:14.4px;font-family:'Liberation Sans', sans-serif;font-size:7.2px;font-weight:normal;color:#595959;white-space:nowrap;transform:scaleX(1);transform-origin:100% 50%;">Agent-5</div>
<div style="position:absolute;left:125.8px;top:63.3px;height:17.6px;line-height:17.6px;font-family:'Liberation Sans', sans-serif;font-size:8.8px;font-weight:normal;color:#505050;white-space:nowrap;">10</div>
<div style="position:absolute;left:61.8px;top:81.2px;width:59.7px;height:11.2px;background:linear-gradient(180deg,#4e3a6b 0,#4e3a6b .8px,#a27ec8 .8px,#8c62b2 2.4px,#7c50a2 3.6px,#7b4fa1 80%,#5a3a7c 100%);box-sizing:border-box;border-right:1px solid #4e3a6b;"></div>
<div style="position:absolute;left:-945.7px;width:1000px;text-align:right;top:80.2px;height:14.4px;line-height:14.4px;font-family:'Liberation Sans', sans-serif;font-size:7.2px;font-weight:normal;color:#595959;white-space:nowrap;transform:scaleX(1);transform-origin:100% 50%;">Agent-4</div>
<div style="position:absolute;left:125.8px;top:79px;height:17.6px;line-height:17.6px;font-family:'Liberation Sans', sans-serif;font-size:8.8px;font-weight:normal;color:#505050;white-space:nowrap;">10</div>
<div style="position:absolute;left:61.8px;top:97px;width:29.9px;height:11.2px;background:linear-gradient(180deg,#4e3a6b 0,#4e3a6b .8px,#a27ec8 .8px,#8c62b2 2.4px,#7c50a2 3.6px,#7b4fa1 80%,#5a3a7c 100%);box-sizing:border-box;border-right:1px solid #4e3a6b;"></div>
<div style="position:absolute;left:-945.7px;width:1000px;text-align:right;top:96px;height:14.4px;line-height:14.4px;font-family:'Liberation Sans', sans-serif;font-size:7.2px;font-weight:normal;color:#595959;white-space:nowrap;transform:scaleX(1);transform-origin:100% 50%;">Agent-3</div>
<div style="position:absolute;left:96px;top:94.8px;height:17.6px;line-height:17.6px;font-family:'Liberation Sans', sans-serif;font-size:8.8px;font-weight:normal;color:#505050;white-space:nowrap;">5</div>
<div style="position:absolute;left:61.8px;top:112.7px;width:42px;height:11.2px;background:linear-gradient(180deg,#4e3a6b 0,#4e3a6b .8px,#a27ec8 .8px,#8c62b2 2.4px,#7c50a2 3.6px,#7b4fa1 80%,#5a3a7c 100%);box-sizing:border-box;border-right:1px solid #4e3a6b;"></div>
<div style="position:absolute;left:-945.7px;width:1000px;text-align:right;top:111.7px;height:14.4px;line-height:14.4px;font-family:'Liberation Sans', sans-serif;font-size:7.2px;font-weight:normal;color:#595959;white-space:nowrap;transform:scaleX(1);transform-origin:100% 50%;">Agent-2</div>
<div style="position:absolute;left:108.1px;top:110.5px;height:17.6px;line-height:17.6px;font-family:'Liberation Sans', sans-serif;font-size:8.8px;font-weight:normal;color:#505050;white-space:nowrap;">7</div>
<div style="position:absolute;left:61.8px;top:128.5px;width:90.1px;height:11.2px;background:linear-gradient(180deg,#4e3a6b 0,#4e3a6b .8px,#a27ec8 .8px,#8c62b2 2.4px,#7c50a2 3.6px,#7b4fa1 80%,#5a3a7c 100%);box-sizing:border-box;border-right:1px solid #4e3a6b;"></div>
<div style="position:absolute;left:-945.7px;width:1000px;text-align:right;top:127.5px;height:14.4px;line-height:14.4px;font-family:'Liberation Sans', sans-serif;font-size:7.2px;font-weight:normal;color:#595959;white-space:nowrap;transform:scaleX(1);transform-origin:100% 50%;">Agent-1</div>
<div style="position:absolute;left:156.2px;top:126.3px;height:17.6px;line-height:17.6px;font-family:'Liberation Sans', sans-serif;font-size:8.8px;font-weight:normal;color:#505050;white-space:nowrap;">15</div>
</div>
<div style="position:absolute;left:760.2px;top:242px;width:235.6px;height:200.2px;background:#fff;box-shadow:0 0 0 .7px #c4c4c4,1px 1px 0 #8c8c8c,1px 2px 2px rgba(0,0,0,.3);overflow:hidden;">
<div style="position:absolute;left:8.4px;top:9.2px;width:0.8px;height:178.8px;background:#cfe8f5;"></div>
<div style="position:absolute;left:12.2px;top:9.2px;width:214.5px;height:11.8px;background:#36afe6;"></div>
<div style="position:absolute;left:-376.9px;width:1000px;text-align:center;top:6.4px;height:17.4px;line-height:17.4px;font-family:'Liberation Sans', sans-serif;font-size:8.7px;font-weight:bold;color:#1b365d;white-space:nowrap;transform:scaleX(1.03);transform-origin:50% 50%;">Above Target Abandon Rate</div>
<div style="position:absolute;left:15.8px;top:34.8px;width:44px;height:0.6px;background:#ededed;"></div>
<div style="position:absolute;left:60px;top:39.2px;width:88.8px;height:17.4px;background:#ec3a41;"></div>
<div style="position:absolute;left:-457.6px;width:1000px;text-align:center;top:41.9px;height:13.2px;line-height:13.2px;font-family:'Liberation Sans', sans-serif;font-size:6.6px;font-weight:normal;color:#262626;white-space:nowrap;transform:scaleX(0.97);transform-origin:50% 50%;">Agent-4</div>
<div style="position:absolute;left:-78.6px;top:41.3px;width:200px;height:13.2px;line-height:13.2px;text-align:center;transform:rotate(-90deg);font-family:'Liberation Sans', sans-serif;font-size:6.6px;font-weight:normal;color:#262626;white-space:nowrap;">30-May</div>
<div style="position:absolute;left:152.1px;top:39.1px;height:19.6px;line-height:19.6px;font-family:'Liberation Sans', sans-serif;font-size:9.8px;font-weight:normal;color:#a04456;white-space:nowrap;transform:scaleX(0.81);transform-origin:0 50%;">7%</div>
<div style="position:absolute;left:15.8px;top:60.6px;width:44px;height:0.6px;background:#ededed;"></div>
<div style="position:absolute;left:60px;top:65px;width:134.2px;height:17.4px;background:#ec3a41;"></div>
<div style="position:absolute;left:-457.6px;width:1000px;text-align:center;top:67.7px;height:13.2px;line-height:13.2px;font-family:'Liberation Sans', sans-serif;font-size:6.6px;font-weight:normal;color:#262626;white-space:nowrap;transform:scaleX(0.97);transform-origin:50% 50%;">Agent-3</div>
<div style="position:absolute;left:-78.6px;top:67.1px;width:200px;height:13.2px;line-height:13.2px;text-align:center;transform:rotate(-90deg);font-family:'Liberation Sans', sans-serif;font-size:6.6px;font-weight:normal;color:#262626;white-space:nowrap;">28-May</div>
<div style="position:absolute;left:197.5px;top:64.9px;height:19.6px;line-height:19.6px;font-family:'Liberation Sans', sans-serif;font-size:9.8px;font-weight:normal;color:#a04456;white-space:nowrap;transform:scaleX(0.85);transform-origin:0 50%;">10%</div>
<div style="position:absolute;left:15.8px;top:86.6px;width:44px;height:0.6px;background:#ededed;"></div>
<div style="position:absolute;left:60px;top:91px;width:134.2px;height:17.4px;background:#ec3a41;"></div>
<div style="position:absolute;left:-457.6px;width:1000px;text-align:center;top:93.7px;height:13.2px;line-height:13.2px;font-family:'Liberation Sans', sans-serif;font-size:6.6px;font-weight:normal;color:#262626;white-space:nowrap;transform:scaleX(0.97);transform-origin:50% 50%;">Agent-7</div>
<div style="position:absolute;left:-78.6px;top:93.1px;width:200px;height:13.2px;line-height:13.2px;text-align:center;transform:rotate(-90deg);font-family:'Liberation Sans', sans-serif;font-size:6.6px;font-weight:normal;color:#262626;white-space:nowrap;">27-May</div>
<div style="position:absolute;left:197.5px;top:90.9px;height:19.6px;line-height:19.6px;font-family:'Liberation Sans', sans-serif;font-size:9.8px;font-weight:normal;color:#a04456;white-space:nowrap;transform:scaleX(0.85);transform-origin:0 50%;">10%</div>
<div style="position:absolute;left:15.8px;top:112.6px;width:44px;height:0.6px;background:#ededed;"></div>
<div style="position:absolute;left:60px;top:117px;width:134.2px;height:17.4px;background:#ec3a41;"></div>
<div style="position:absolute;left:-457.6px;width:1000px;text-align:center;top:119.7px;height:13.2px;line-height:13.2px;font-family:'Liberation Sans', sans-serif;font-size:6.6px;font-weight:normal;color:#262626;white-space:nowrap;transform:scaleX(0.97);transform-origin:50% 50%;">Agent-6</div>
<div style="position:absolute;left:-78.6px;top:119.1px;width:200px;height:13.2px;line-height:13.2px;text-align:center;transform:rotate(-90deg);font-family:'Liberation Sans', sans-serif;font-size:6.6px;font-weight:normal;color:#262626;white-space:nowrap;">24-May</div>
<div style="position:absolute;left:197.5px;top:116.9px;height:19.6px;line-height:19.6px;font-family:'Liberation Sans', sans-serif;font-size:9.8px;font-weight:normal;color:#a04456;white-space:nowrap;transform:scaleX(0.85);transform-origin:0 50%;">10%</div>
<div style="position:absolute;left:15.8px;top:138.4px;width:44px;height:0.6px;background:#ededed;"></div>
<div style="position:absolute;left:60px;top:142.8px;width:111.8px;height:17.4px;background:#ec3a41;"></div>
<div style="position:absolute;left:-457.6px;width:1000px;text-align:center;top:145.5px;height:13.2px;line-height:13.2px;font-family:'Liberation Sans', sans-serif;font-size:6.6px;font-weight:normal;color:#262626;white-space:nowrap;transform:scaleX(0.97);transform-origin:50% 50%;">Agent-1</div>
<div style="position:absolute;left:-78.6px;top:144.9px;width:200px;height:13.2px;line-height:13.2px;text-align:center;transform:rotate(-90deg);font-family:'Liberation Sans', sans-serif;font-size:6.6px;font-weight:normal;color:#262626;white-space:nowrap;">11-May</div>
<div style="position:absolute;left:175.1px;top:142.7px;height:19.6px;line-height:19.6px;font-family:'Liberation Sans', sans-serif;font-size:9.8px;font-weight:normal;color:#a04456;white-space:nowrap;transform:scaleX(0.81);transform-origin:0 50%;">8%</div>
<div style="position:absolute;left:15.8px;top:164.5px;width:44px;height:0.6px;background:#ededed;"></div>
<div style="position:absolute;left:60px;top:168.9px;width:111.8px;height:17.4px;background:#ec3a41;"></div>
<div style="position:absolute;left:-457.6px;width:1000px;text-align:center;top:171.6px;height:13.2px;line-height:13.2px;font-family:'Liberation Sans', sans-serif;font-size:6.6px;font-weight:normal;color:#262626;white-space:nowrap;transform:scaleX(0.97);transform-origin:50% 50%;">Agent-6</div>
<div style="position:absolute;left:-78.6px;top:171px;width:200px;height:13.2px;line-height:13.2px;text-align:center;transform:rotate(-90deg);font-family:'Liberation Sans', sans-serif;font-size:6.6px;font-weight:normal;color:#262626;white-space:nowrap;">05-May</div>
<div style="position:absolute;left:175.1px;top:168.8px;height:19.6px;line-height:19.6px;font-family:'Liberation Sans', sans-serif;font-size:9.8px;font-weight:normal;color:#a04456;white-space:nowrap;transform:scaleX(0.81);transform-origin:0 50%;">8%</div>
</div>
<div style="position:absolute;left:775.9px;top:62px;width:234.1px;height:185.4px;background:#fff;box-shadow:0 0 0 .7px #c4c4c4,1px 1px 0 #8c8c8c,1px 2px 2px rgba(0,0,0,.3);overflow:hidden;">
<div style="position:absolute;left:9.7px;top:12px;width:0.8px;height:167px;background:#cfe8f5;"></div>
<div style="position:absolute;left:12px;top:12px;width:222.1px;height:13.9px;background:#36afe6;"></div>
<div style="position:absolute;left:-376.5px;width:1000px;text-align:center;top:9.6px;height:18.7px;line-height:18.7px;font-family:'Liberation Sans', sans-serif;font-size:9.35px;font-weight:bold;color:#1b365d;white-space:nowrap;transform:scaleX(0.88);transform-origin:50% 50%;">AFTER CALL WORK TIME</div>
<div style="position:absolute;left:16.1px;top:41.8px;height:15.2px;line-height:15.2px;font-family:'Liberation Sans', sans-serif;font-size:7.6px;font-weight:bold;color:#1a1a1a;white-space:nowrap;transform:scaleX(0.99);transform-origin:0 50%;">Average After Call Work Time per Agent (sec)</div>
<div style="position:absolute;left:212.9px;top:39.4px;height:20px;line-height:20px;font-family:'Liberation Sans', sans-serif;font-size:10px;font-weight:bold;color:#1a1a1a;white-space:nowrap;">20</div>
<svg style="position:absolute;left:194.1px;top:42px;overflow:visible" width="16" height="13" viewBox="970 104 16 13">
<g fill="none" stroke="#666" stroke-width=".8"><path d="M972.3 115.2 V110.2 H977.6 V115.2 M978.6 115.2 V110.2 H983.9 V115.2"/><circle cx="975" cy="107.9" r="1.5"/><circle cx="981.2" cy="107.9" r="1.5"/><path d="M973.8 115.2 V112.2 M976.2 115.2 V112.2 M980.1 115.2 V112.2 M982.5 115.2 V112.2"/></g>
</svg>
<div style="position:absolute;left:16.1px;top:55.2px;height:14.6px;line-height:14.6px;font-family:'Liberation Sans', sans-serif;font-size:7.3px;font-weight:bold;color:#b8475a;white-space:nowrap;transform:scaleX(0.99);transform-origin:0 50%;">Agent-1</div>
<div style="position:absolute;left:16.1px;top:67.2px;height:14.6px;line-height:14.6px;font-family:'Liberation Sans', sans-serif;font-size:7.3px;font-weight:bold;color:#b8475a;white-space:nowrap;transform:scaleX(0.99);transform-origin:0 50%;">Agent-6</div>
<div style="position:absolute;left:76.3px;top:53.5px;height:18px;line-height:18px;font-family:'Liberation Sans', sans-serif;font-size:9px;font-weight:bold;color:#b8475a;white-space:nowrap;transform:scaleX(1);transform-origin:0 50%;">32</div>
<div style="position:absolute;left:76.3px;top:65.5px;height:18px;line-height:18px;font-family:'Liberation Sans', sans-serif;font-size:9px;font-weight:bold;color:#b8475a;white-space:nowrap;transform:scaleX(1);transform-origin:0 50%;">31</div>
<svg style="position:absolute;left:52.6px;top:57.2px;overflow:visible" width="10" height="10" viewBox="828.5 119.2 10 10">
<path d="M830 120.7L837 127.7M837 120.7L830 127.7" stroke="#d45f4f" stroke-width="2.5" stroke-linecap="round"/>
</svg>
<svg style="position:absolute;left:52.6px;top:69.2px;overflow:visible" width="10" height="10" viewBox="828.5 131.2 10 10">
<path d="M830 132.7L837 139.7M837 132.7L830 139.7" stroke="#d45f4f" stroke-width="2.5" stroke-linecap="round"/>
</svg>
<div style="position:absolute;left:20.8px;top:92.9px;width:22.7px;height:64.5px;background:linear-gradient(90deg,#62458f 0%,#7a52a2 8%,#7d53a4 60%,#7a51a0 86%,#5c4680 92%,#4f3d6e 100%);box-sizing:border-box;border-top:1px solid #4e3a6b;box-shadow:inset 0 1.3px 0 #a27ec8;"></div>
<div style="position:absolute;left:-467.85px;width:1000px;text-align:center;top:79.7px;height:13.6px;line-height:13.6px;font-family:'Liberation Sans', sans-serif;font-size:6.8px;font-weight:normal;color:#404040;white-space:nowrap;">32</div>
<div style="position:absolute;left:-467.85px;width:1000px;text-align:center;top:159.7px;height:11.6px;line-height:11.6px;font-family:'Liberation Sans', sans-serif;font-size:5.8px;font-weight:normal;color:#595959;white-space:nowrap;">Agent-1</div>
<div style="position:absolute;left:50.9px;top:144px;width:22.7px;height:13.4px;background:linear-gradient(90deg,#62458f 0%,#7a52a2 8%,#7d53a4 60%,#7a51a0 86%,#5c4680 92%,#4f3d6e 100%);box-sizing:border-box;border-top:1px solid #4e3a6b;box-shadow:inset 0 1.3px 0 #a27ec8;"></div>
<div style="position:absolute;left:-437.75px;width:1000px;text-align:center;top:130.8px;height:13.6px;line-height:13.6px;font-family:'Liberation Sans', sans-serif;font-size:6.8px;font-weight:normal;color:#404040;white-space:nowrap;">7</div>
<div style="position:absolute;left:-437.75px;width:1000px;text-align:center;top:159.7px;height:11.6px;line-height:11.6px;font-family:'Liberation Sans', sans-serif;font-size:5.8px;font-weight:normal;color:#595959;white-space:nowrap;">Agent-2</div>
<div style="position:absolute;left:81.3px;top:146px;width:22.2px;height:11.4px;background:linear-gradient(90deg,#62458f 0%,#7a52a2 8%,#7d53a4 60%,#7a51a0 86%,#5c4680 92%,#4f3d6e 100%);box-sizing:border-box;border-top:1px solid #4e3a6b;box-shadow:inset 0 1.3px 0 #a27ec8;"></div>
<div style="position:absolute;left:-407.6px;width:1000px;text-align:center;top:132.8px;height:13.6px;line-height:13.6px;font-family:'Liberation Sans', sans-serif;font-size:6.8px;font-weight:normal;color:#404040;white-space:nowrap;">6</div>
<div style="position:absolute;left:-407.6px;width:1000px;text-align:center;top:159.7px;height:11.6px;line-height:11.6px;font-family:'Liberation Sans', sans-serif;font-size:5.8px;font-weight:normal;color:#595959;white-space:nowrap;">Agent-3</div>
<div style="position:absolute;left:111.5px;top:103.3px;width:22.1px;height:54.1px;background:linear-gradient(90deg,#62458f 0%,#7a52a2 8%,#7d53a4 60%,#7a51a0 86%,#5c4680 92%,#4f3d6e 100%);box-sizing:border-box;border-top:1px solid #4e3a6b;box-shadow:inset 0 1.3px 0 #a27ec8;"></div>
<div style="position:absolute;left:-377.45px;width:1000px;text-align:center;top:90.1px;height:13.6px;line-height:13.6px;font-family:'Liberation Sans', sans-serif;font-size:6.8px;font-weight:normal;color:#404040;white-space:nowrap;">27</div>
<div style="position:absolute;left:-377.45px;width:1000px;text-align:center;top:159.7px;height:11.6px;line-height:11.6px;font-family:'Liberation Sans', sans-serif;font-size:5.8px;font-weight:normal;color:#595959;white-space:nowrap;">Agent-4</div>
<div style="position:absolute;left:141.6px;top:129.4px;width:22.5px;height:28px;background:linear-gradient(90deg,#62458f 0%,#7a52a2 8%,#7d53a4 60%,#7a51a0 86%,#5c4680 92%,#4f3d6e 100%);box-sizing:border-box;border-top:1px solid #4e3a6b;box-shadow:inset 0 1.3px 0 #a27ec8;"></div>
<div style="position:absolute;left:-347.15px;width:1000px;text-align:center;top:116.2px;height:13.6px;line-height:13.6px;font-family:'Liberation Sans', sans-serif;font-size:6.8px;font-weight:normal;color:#404040;white-space:nowrap;">14</div>
<div style="position:absolute;left:-347.15px;width:1000px;text-align:center;top:159.7px;height:11.6px;line-height:11.6px;font-family:'Liberation Sans', sans-serif;font-size:5.8px;font-weight:normal;color:#595959;white-space:nowrap;">Agent-5</div>
<div style="position:absolute;left:171.5px;top:95.3px;width:22.7px;height:62.1px;background:linear-gradient(90deg,#62458f 0%,#7a52a2 8%,#7d53a4 60%,#7a51a0 86%,#5c4680 92%,#4f3d6e 100%);box-sizing:border-box;border-top:1px solid #4e3a6b;box-shadow:inset 0 1.3px 0 #a27ec8;"></div>
<div style="position:absolute;left:-317.15px;width:1000px;text-align:center;top:82.1px;height:13.6px;line-height:13.6px;font-family:'Liberation Sans', sans-serif;font-size:6.8px;font-weight:normal;color:#404040;white-space:nowrap;">31</div>
<div style="position:absolute;left:-317.15px;width:1000px;text-align:center;top:159.7px;height:11.6px;line-height:11.6px;font-family:'Liberation Sans', sans-serif;font-size:5.8px;font-weight:normal;color:#595959;white-space:nowrap;">Agent-6</div>
<div style="position:absolute;left:201.7px;top:107.3px;width:22.4px;height:50.1px;background:linear-gradient(90deg,#62458f 0%,#7a52a2 8%,#7d53a4 60%,#7a51a0 86%,#5c4680 92%,#4f3d6e 100%);box-sizing:border-box;border-top:1px solid #4e3a6b;box-shadow:inset 0 1.3px 0 #a27ec8;"></div>
<div style="position:absolute;left:-287.1px;width:1000px;text-align:center;top:94.1px;height:13.6px;line-height:13.6px;font-family:'Liberation Sans', sans-serif;font-size:6.8px;font-weight:normal;color:#404040;white-space:nowrap;">25</div>
<div style="position:absolute;left:-287.1px;width:1000px;text-align:center;top:159.7px;height:11.6px;line-height:11.6px;font-family:'Liberation Sans', sans-serif;font-size:5.8px;font-weight:normal;color:#595959;white-space:nowrap;">Agent-7</div>
</div>
<div style="position:absolute;left:383.4px;top:423.2px;width:426.1px;height:98.8px;background:#fff;box-shadow:-1px 0 0 #b0b0b0,0 1px 0 #999,0 2px 2px rgba(0,0,0,.18);overflow:hidden;">
<div style="position:absolute;left:0px;top:3.8px;width:425.1px;height:0.6px;background:#eeeeee;"></div>
<div style="position:absolute;left:6.9px;top:3.4px;height:22px;line-height:22px;font-family:'Liberation Sans', sans-serif;font-size:11px;font-weight:bold;color:#404040;white-space:nowrap;transform:scaleX(0.86);transform-origin:0 50%;">Company Wise Sales</div>
<div style="position:absolute;left:16.6px;top:79.1px;width:400px;height:0.6px;background:#d9d9d9;"></div>
<div style="position:absolute;left:34.8px;top:40.6px;width:11.3px;height:38.5px;background:#70ad47;"></div>
<div style="position:absolute;left:-459.6px;width:1000px;text-align:center;top:29.5px;height:10.4px;line-height:10.4px;font-family:'Liberation Sans', sans-serif;font-size:5.2px;font-weight:bold;color:#3aa57a;white-space:nowrap;transform:scaleX(0.97);transform-origin:50% 50%;">$25K</div>
<div style="position:absolute;left:49px;top:54.4px;width:11.3px;height:24.7px;background:#5b9bd5;"></div>
<div style="position:absolute;left:-445.4px;width:1000px;text-align:center;top:43.3px;height:10.4px;line-height:10.4px;font-family:'Liberation Sans', sans-serif;font-size:5.2px;font-weight:bold;color:#2f75b5;white-space:nowrap;transform:scaleX(0.97);transform-origin:50% 50%;">$16K</div>
<div style="position:absolute;left:63.2px;top:41.8px;width:11.3px;height:37.3px;background:#ffc000;"></div>
<div style="position:absolute;left:-431.2px;width:1000px;text-align:center;top:30.7px;height:10.4px;line-height:10.4px;font-family:'Liberation Sans', sans-serif;font-size:5.2px;font-weight:bold;color:#f2c14e;white-space:nowrap;transform:scaleX(0.97);transform-origin:50% 50%;">$24K</div>
<div style="position:absolute;left:77.6px;top:60px;width:11.3px;height:19.1px;background:#4e7333;"></div>
<div style="position:absolute;left:-416.8px;width:1000px;text-align:center;top:48.9px;height:10.4px;line-height:10.4px;font-family:'Liberation Sans', sans-serif;font-size:5.2px;font-weight:bold;color:#262626;white-space:nowrap;transform:scaleX(0.97);transform-origin:50% 50%;">$13K</div>
<div style="position:absolute;left:113.6px;top:43.1px;width:11.3px;height:36px;background:#70ad47;"></div>
<div style="position:absolute;left:-380.8px;width:1000px;text-align:center;top:32px;height:10.4px;line-height:10.4px;font-family:'Liberation Sans', sans-serif;font-size:5.2px;font-weight:bold;color:#3aa57a;white-space:nowrap;transform:scaleX(0.97);transform-origin:50% 50%;">$24K</div>
<div style="position:absolute;left:127.7px;top:33px;width:11.3px;height:46.1px;background:#5b9bd5;"></div>
<div style="position:absolute;left:-366.7px;width:1000px;text-align:center;top:21.9px;height:10.4px;line-height:10.4px;font-family:'Liberation Sans', sans-serif;font-size:5.2px;font-weight:bold;color:#2f75b5;white-space:nowrap;transform:scaleX(0.97);transform-origin:50% 50%;">$30K</div>
<div style="position:absolute;left:142.4px;top:33px;width:11.3px;height:46.1px;background:#ffc000;"></div>
<div style="position:absolute;left:-352px;width:1000px;text-align:center;top:21.9px;height:10.4px;line-height:10.4px;font-family:'Liberation Sans', sans-serif;font-size:5.2px;font-weight:bold;color:#f2c14e;white-space:nowrap;transform:scaleX(0.97);transform-origin:50% 50%;">$30K</div>
<div style="position:absolute;left:156.6px;top:63.4px;width:11.3px;height:15.7px;background:#4e7333;"></div>
<div style="position:absolute;left:-337.8px;width:1000px;text-align:center;top:52.3px;height:10.4px;line-height:10.4px;font-family:'Liberation Sans', sans-serif;font-size:5.2px;font-weight:bold;color:#262626;white-space:nowrap;transform:scaleX(0.99);transform-origin:50% 50%;">$11K</div>
<div style="position:absolute;left:192.4px;top:48.2px;width:11.3px;height:30.9px;background:#70ad47;"></div>
<div style="position:absolute;left:-302px;width:1000px;text-align:center;top:37.1px;height:10.4px;line-height:10.4px;font-family:'Liberation Sans', sans-serif;font-size:5.2px;font-weight:bold;color:#3aa57a;white-space:nowrap;transform:scaleX(0.97);transform-origin:50% 50%;">$19K</div>
<div style="position:absolute;left:206.3px;top:37.7px;width:11.3px;height:41.4px;background:#5b9bd5;"></div>
<div style="position:absolute;left:-288.1px;width:1000px;text-align:center;top:26.6px;height:10.4px;line-height:10.4px;font-family:'Liberation Sans', sans-serif;font-size:5.2px;font-weight:bold;color:#2f75b5;white-space:nowrap;transform:scaleX(0.97);transform-origin:50% 50%;">$27K</div>
<div style="position:absolute;left:220.6px;top:39px;width:11.3px;height:40.1px;background:#ffc000;"></div>
<div style="position:absolute;left:-273.8px;width:1000px;text-align:center;top:27.9px;height:10.4px;line-height:10.4px;font-family:'Liberation Sans', sans-serif;font-size:5.2px;font-weight:bold;color:#f2c14e;white-space:nowrap;transform:scaleX(0.97);transform-origin:50% 50%;">$25K</div>
<div style="position:absolute;left:235.2px;top:60.8px;width:11.3px;height:18.3px;background:#4e7333;"></div>
<div style="position:absolute;left:-259.2px;width:1000px;text-align:center;top:49.7px;height:10.4px;line-height:10.4px;font-family:'Liberation Sans', sans-serif;font-size:5.2px;font-weight:bold;color:#262626;white-space:nowrap;transform:scaleX(0.97);transform-origin:50% 50%;">$12K</div>
<div style="position:absolute;left:270.9px;top:34.8px;width:11.3px;height:44.3px;background:#70ad47;"></div>
<div style="position:absolute;left:-223.5px;width:1000px;text-align:center;top:23.7px;height:10.4px;line-height:10.4px;font-family:'Liberation Sans', sans-serif;font-size:5.2px;font-weight:bold;color:#3aa57a;white-space:nowrap;transform:scaleX(0.97);transform-origin:50% 50%;">$28K</div>
<div style="position:absolute;left:285.2px;top:49.5px;width:11.3px;height:29.6px;background:#5b9bd5;"></div>
<div style="position:absolute;left:-209.2px;width:1000px;text-align:center;top:38.4px;height:10.4px;line-height:10.4px;font-family:'Liberation Sans', sans-serif;font-size:5.2px;font-weight:bold;color:#2f75b5;white-space:nowrap;transform:scaleX(0.97);transform-origin:50% 50%;">$19K</div>
<div style="position:absolute;left:299.9px;top:46.1px;width:11.3px;height:33px;background:#ffc000;"></div>
<div style="position:absolute;left:-194.5px;width:1000px;text-align:center;top:35px;height:10.4px;line-height:10.4px;font-family:'Liberation Sans', sans-serif;font-size:5.2px;font-weight:bold;color:#f2c14e;white-space:nowrap;transform:scaleX(0.97);transform-origin:50% 50%;">$22K</div>
<div style="position:absolute;left:314.2px;top:57.4px;width:11.3px;height:21.7px;background:#4e7333;"></div>
<div style="position:absolute;left:-180.2px;width:1000px;text-align:center;top:46.3px;height:10.4px;line-height:10.4px;font-family:'Liberation Sans', sans-serif;font-size:5.2px;font-weight:bold;color:#262626;white-space:nowrap;transform:scaleX(0.97);transform-origin:50% 50%;">$14K</div>
<div style="position:absolute;left:349.9px;top:38.5px;width:11.3px;height:40.6px;background:#70ad47;"></div>
<div style="position:absolute;left:-144.5px;width:1000px;text-align:center;top:27.4px;height:10.4px;line-height:10.4px;font-family:'Liberation Sans', sans-serif;font-size:5.2px;font-weight:bold;color:#3aa57a;white-space:nowrap;transform:scaleX(0.97);transform-origin:50% 50%;">$26K</div>
<div style="position:absolute;left:364.6px;top:33.5px;width:11.3px;height:45.6px;background:#5b9bd5;"></div>
<div style="position:absolute;left:-129.8px;width:1000px;text-align:center;top:22.4px;height:10.4px;line-height:10.4px;font-family:'Liberation Sans', sans-serif;font-size:5.2px;font-weight:bold;color:#2f75b5;white-space:nowrap;transform:scaleX(0.97);transform-origin:50% 50%;">$30K</div>
<div style="position:absolute;left:378.4px;top:40.6px;width:11.3px;height:38.5px;background:#ffc000;"></div>
<div style="position:absolute;left:-116px;width:1000px;text-align:center;top:29.5px;height:10.4px;line-height:10.4px;font-family:'Liberation Sans', sans-serif;font-size:5.2px;font-weight:bold;color:#f2c14e;white-space:nowrap;transform:scaleX(0.97);transform-origin:50% 50%;">$25K</div>
<div style="position:absolute;left:392.6px;top:47.4px;width:11.3px;height:31.7px;background:#4e7333;"></div>
<div style="position:absolute;left:-101.8px;width:1000px;text-align:center;top:36.3px;height:10.4px;line-height:10.4px;font-family:'Liberation Sans', sans-serif;font-size:5.2px;font-weight:bold;color:#262626;white-space:nowrap;transform:scaleX(0.97);transform-origin:50% 50%;">$21K</div>
<div style="position:absolute;left:-284.4px;width:1000px;text-align:center;top:83.7px;height:10px;line-height:10px;font-family:'Liberation Sans', sans-serif;font-size:5px;font-weight:normal;color:#404040;white-space:nowrap;transform:scaleX(0.91);transform-origin:50% 50%;">Company3</div>
<div style="position:absolute;left:-206.8px;width:1000px;text-align:center;top:83.7px;height:10px;line-height:10px;font-family:'Liberation Sans', sans-serif;font-size:5px;font-weight:normal;color:#404040;white-space:nowrap;transform:scaleX(0.91);transform-origin:50% 50%;">Company4</div>
<div style="position:absolute;left:-129.1px;width:1000px;text-align:center;top:83.7px;height:10px;line-height:10px;font-family:'Liberation Sans', sans-serif;font-size:5px;font-weight:normal;color:#404040;white-space:nowrap;transform:scaleX(0.91);transform-origin:50% 50%;">Company5</div>
</div>
<div style="position:absolute;left:-10px;top:332px;width:168px;height:228px;background:#fff;box-shadow:0 0 0 .7px #c4c4c4,1px 1px 0 #8c8c8c,1px 2px 2px rgba(0,0,0,.3);overflow:hidden;">
<div style="position:absolute;left:31.2px;top:4.3px;width:4.2px;height:4.2px;background:#fff;box-sizing:border-box;border:1px solid #333;"></div>
<div style="position:absolute;left:36.5px;top:0.6px;height:12.8px;line-height:12.8px;font-family:'Liberation Sans', sans-serif;font-size:6.4px;font-weight:normal;color:#595959;white-space:nowrap;transform:scaleX(0.97);transform-origin:0 50%;">Target Rate</div>
<div style="position:absolute;left:79px;top:4.2px;width:4px;height:4.2px;background:#6e3d9e;"></div>
<div style="position:absolute;left:84.5px;top:0.6px;height:12.8px;line-height:12.8px;font-family:'Liberation Sans', sans-serif;font-size:6.4px;font-weight:normal;color:#595959;white-space:nowrap;transform:scaleX(0.93);transform-origin:0 50%;">Good</div>
<div style="position:absolute;left:108px;top:4.2px;width:4px;height:4.2px;background:#ec3a41;"></div>
<div style="position:absolute;left:113.5px;top:0.6px;height:12.8px;line-height:12.8px;font-family:'Liberation Sans', sans-serif;font-size:6.4px;font-weight:normal;color:#595959;white-space:nowrap;transform:scaleX(0.88);transform-origin:0 50%;">Bad</div>
<div style="position:absolute;left:16px;top:46.4px;width:4.65px;height:36px;background:#fff;box-sizing:border-box;border:1px solid #6a6a6a;border-bottom:none;"></div>
<div style="position:absolute;left:16px;top:53px;width:4.65px;height:29.4px;background:#6e3d9e;box-sizing:border-box;border-right:.6px solid #4e2a78;border-left:.6px solid #4e2a78;"></div>
<div style="position:absolute;left:20.65px;top:46.4px;width:4.65px;height:36px;background:#fff;box-sizing:border-box;border:1px solid #6a6a6a;border-bottom:none;"></div>
<div style="position:absolute;left:20.65px;top:68.4px;width:4.65px;height:14px;background:#6e3d9e;box-sizing:border-box;border-right:.6px solid #4e2a78;border-left:.6px solid #4e2a78;"></div>
<div style="position:absolute;left:25.31px;top:46.4px;width:4.65px;height:36px;background:#fff;box-sizing:border-box;border:1px solid #6a6a6a;border-bottom:none;"></div>
<div style="position:absolute;left:25.31px;top:56px;width:4.65px;height:26.4px;background:#6e3d9e;box-sizing:border-box;border-right:.6px solid #4e2a78;border-left:.6px solid #4e2a78;"></div>
<div style="position:absolute;left:29.96px;top:46.4px;width:4.65px;height:36px;background:#fff;box-sizing:border-box;border:1px solid #6a6a6a;border-bottom:none;"></div>
<div style="position:absolute;left:29.96px;top:56px;width:4.65px;height:26.4px;background:#6e3d9e;box-sizing:border-box;border-right:.6px solid #4e2a78;border-left:.6px solid #4e2a78;"></div>
<div style="position:absolute;left:34.61px;top:46.4px;width:4.65px;height:36px;background:#fff;box-sizing:border-box;border:1px solid #6a6a6a;border-bottom:none;"></div>
<div style="position:absolute;left:34.61px;top:46.4px;width:4.65px;height:36px;background:#6e3d9e;box-sizing:border-box;border-right:.6px solid #4e2a78;border-left:.6px solid #4e2a78;"></div>
<div style="position:absolute;left:39.27px;top:46.4px;width:4.65px;height:36px;background:#fff;box-sizing:border-box;border:1px solid #6a6a6a;border-bottom:none;"></div>
<div style="position:absolute;left:39.27px;top:65px;width:4.65px;height:17.4px;background:#6e3d9e;box-sizing:border-box;border-right:.6px solid #4e2a78;border-left:.6px solid #4e2a78;"></div>
<div style="position:absolute;left:43.92px;top:46.4px;width:4.65px;height:36px;background:#fff;box-sizing:border-box;border:1px solid #6a6a6a;border-bottom:none;"></div>
<div style="position:absolute;left:43.92px;top:68px;width:4.65px;height:14.4px;background:#6e3d9e;box-sizing:border-box;border-right:.6px solid #4e2a78;border-left:.6px solid #4e2a78;"></div>
<div style="position:absolute;left:49.07px;top:22px;width:3.65px;height:60.4px;background:#ec3a41;"></div>
<div style="position:absolute;left:53.23px;top:46.4px;width:4.65px;height:36px;background:#fff;box-sizing:border-box;border:1px solid #6a6a6a;border-bottom:none;"></div>
<div style="position:absolute;left:53.23px;top:67px;width:4.65px;height:15.4px;background:#6e3d9e;box-sizing:border-box;border-right:.6px solid #4e2a78;border-left:.6px solid #4e2a78;"></div>
<div style="position:absolute;left:57.88px;top:46.4px;width:4.65px;height:36px;background:#fff;box-sizing:border-box;border:1px solid #6a6a6a;border-bottom:none;"></div>
<div style="position:absolute;left:57.88px;top:60px;width:4.65px;height:22.4px;background:#6e3d9e;box-sizing:border-box;border-right:.6px solid #4e2a78;border-left:.6px solid #4e2a78;"></div>
<div style="position:absolute;left:63.03px;top:22px;width:3.65px;height:60.4px;background:#ec3a41;"></div>
<div style="position:absolute;left:67.19px;top:39px;width:4.65px;height:43.4px;background:#fff;box-sizing:border-box;border:1px solid #6a6a6a;border-bottom:none;"></div>
<div style="position:absolute;left:67.19px;top:64px;width:4.65px;height:18.4px;background:#6e3d9e;box-sizing:border-box;border-right:.6px solid #4e2a78;border-left:.6px solid #4e2a78;"></div>
<div style="position:absolute;left:71.84px;top:39px;width:4.65px;height:43.4px;background:#fff;box-sizing:border-box;border:1px solid #6a6a6a;border-bottom:none;"></div>
<div style="position:absolute;left:71.84px;top:48px;width:4.65px;height:34.4px;background:#6e3d9e;box-sizing:border-box;border-right:.6px solid #4e2a78;border-left:.6px solid #4e2a78;"></div>
<div style="position:absolute;left:76.49px;top:39px;width:4.65px;height:43.4px;background:#fff;box-sizing:border-box;border:1px solid #6a6a6a;border-bottom:none;"></div>
<div style="position:absolute;left:76.49px;top:68px;width:4.65px;height:14.4px;background:#6e3d9e;box-sizing:border-box;border-right:.6px solid #4e2a78;border-left:.6px solid #4e2a78;"></div>
<div style="position:absolute;left:81.15px;top:39px;width:4.65px;height:43.4px;background:#fff;box-sizing:border-box;border:1px solid #6a6a6a;border-bottom:none;"></div>
<div style="position:absolute;left:81.15px;top:63px;width:4.65px;height:19.4px;background:#6e3d9e;box-sizing:border-box;border-right:.6px solid #4e2a78;border-left:.6px solid #4e2a78;"></div>
<div style="position:absolute;left:85.8px;top:39px;width:4.65px;height:43.4px;background:#fff;box-sizing:border-box;border:1px solid #6a6a6a;border-bottom:none;"></div>
<div style="position:absolute;left:85.8px;top:47px;width:4.65px;height:35.4px;background:#6e3d9e;box-sizing:border-box;border-right:.6px solid #4e2a78;border-left:.6px solid #4e2a78;"></div>
<div style="position:absolute;left:90.45px;top:39px;width:4.65px;height:43.4px;background:#fff;box-sizing:border-box;border:1px solid #6a6a6a;border-bottom:none;"></div>
<div style="position:absolute;left:90.45px;top:63px;width:4.65px;height:19.4px;background:#6e3d9e;box-sizing:border-box;border-right:.6px solid #4e2a78;border-left:.6px solid #4e2a78;"></div>
<div style="position:absolute;left:95.11px;top:39px;width:4.65px;height:43.4px;background:#fff;box-sizing:border-box;border:1px solid #6a6a6a;border-bottom:none;"></div>
<div style="position:absolute;left:95.11px;top:65px;width:4.65px;height:17.4px;background:#6e3d9e;box-sizing:border-box;border-right:.6px solid #4e2a78;border-left:.6px solid #4e2a78;"></div>
<div style="position:absolute;left:99.76px;top:39px;width:4.65px;height:43.4px;background:#fff;box-sizing:border-box;border:1px solid #6a6a6a;border-bottom:none;"></div>
<div style="position:absolute;left:99.76px;top:44.4px;width:4.65px;height:38px;background:#6e3d9e;box-sizing:border-box;border-right:.6px solid #4e2a78;border-left:.6px solid #4e2a78;"></div>
<div style="position:absolute;left:104.41px;top:39px;width:4.65px;height:43.4px;background:#fff;box-sizing:border-box;border:1px solid #6a6a6a;border-bottom:none;"></div>
<div style="position:absolute;left:104.41px;top:46.4px;width:4.65px;height:36px;background:#6e3d9e;box-sizing:border-box;border-right:.6px solid #4e2a78;border-left:.6px solid #4e2a78;"></div>
<div style="position:absolute;left:109.07px;top:39px;width:4.65px;height:43.4px;background:#fff;box-sizing:border-box;border:1px solid #6a6a6a;border-bottom:none;"></div>
<div style="position:absolute;left:109.07px;top:66px;width:4.65px;height:16.4px;background:#6e3d9e;box-sizing:border-box;border-right:.6px solid #4e2a78;border-left:.6px solid #4e2a78;"></div>
<div style="position:absolute;left:113.72px;top:39px;width:4.65px;height:43.4px;background:#fff;box-sizing:border-box;border:1px solid #6a6a6a;border-bottom:none;"></div>
<div style="position:absolute;left:113.72px;top:53px;width:4.65px;height:29.4px;background:#6e3d9e;box-sizing:border-box;border-right:.6px solid #4e2a78;border-left:.6px solid #4e2a78;"></div>
<div style="position:absolute;left:118.37px;top:39px;width:4.65px;height:43.4px;background:#fff;box-sizing:border-box;border:1px solid #6a6a6a;border-bottom:none;"></div>
<div style="position:absolute;left:118.37px;top:69px;width:4.65px;height:13.4px;background:#6e3d9e;box-sizing:border-box;border-right:.6px solid #4e2a78;border-left:.6px solid #4e2a78;"></div>
<div style="position:absolute;left:123.53px;top:10px;width:3.65px;height:72.4px;background:#ec3a41;"></div>
<div style="position:absolute;left:127.68px;top:53.6px;width:4.65px;height:28.8px;background:#fff;box-sizing:border-box;border:1px solid #6a6a6a;border-bottom:none;"></div>
<div style="position:absolute;left:127.68px;top:63px;width:4.65px;height:19.4px;background:#6e3d9e;box-sizing:border-box;border-right:.6px solid #4e2a78;border-left:.6px solid #4e2a78;"></div>
<div style="position:absolute;left:132.33px;top:53.6px;width:4.65px;height:28.8px;background:#fff;box-sizing:border-box;border:1px solid #6a6a6a;border-bottom:none;"></div>
<div style="position:absolute;left:132.33px;top:67.6px;width:4.65px;height:14.8px;background:#6e3d9e;box-sizing:border-box;border-right:.6px solid #4e2a78;border-left:.6px solid #4e2a78;"></div>
<div style="position:absolute;left:137.49px;top:10px;width:3.65px;height:72.4px;background:#ec3a41;"></div>
<div style="position:absolute;left:142.14px;top:10px;width:3.65px;height:72.4px;background:#ec3a41;"></div>
<div style="position:absolute;left:146.29px;top:53.6px;width:4.65px;height:28.8px;background:#fff;box-sizing:border-box;border:1px solid #6a6a6a;border-bottom:none;"></div>
<div style="position:absolute;left:146.29px;top:69px;width:4.65px;height:13.4px;background:#6e3d9e;box-sizing:border-box;border-right:.6px solid #4e2a78;border-left:.6px solid #4e2a78;"></div>
<div style="position:absolute;left:151.45px;top:34.4px;width:3.65px;height:48px;background:#ec3a41;"></div>
<div style="position:absolute;left:-482px;width:1000px;text-align:center;top:86px;height:10.4px;line-height:10.4px;font-family:'Liberation Sans', sans-serif;font-size:5.2px;font-weight:normal;color:#606060;white-space:nowrap;transform:scaleX(1.04);transform-origin:50% 50%;">01-May</div>
<div style="position:absolute;left:-459px;width:1000px;text-align:center;top:86px;height:10.4px;line-height:10.4px;font-family:'Liberation Sans', sans-serif;font-size:5.2px;font-weight:normal;color:#606060;white-space:nowrap;transform:scaleX(1.04);transform-origin:50% 50%;">06-May</div>
<div style="position:absolute;left:-435px;width:1000px;text-align:center;top:86px;height:10.4px;line-height:10.4px;font-family:'Liberation Sans', sans-serif;font-size:5.2px;font-weight:normal;color:#606060;white-space:nowrap;transform:scaleX(1.06);transform-origin:50% 50%;">11-May</div>
<div style="position:absolute;left:-411px;width:1000px;text-align:center;top:86px;height:10.4px;line-height:10.4px;font-family:'Liberation Sans', sans-serif;font-size:5.2px;font-weight:normal;color:#606060;white-space:nowrap;transform:scaleX(1.04);transform-origin:50% 50%;">16-May</div>
<div style="position:absolute;left:-387px;width:1000px;text-align:center;top:86px;height:10.4px;line-height:10.4px;font-family:'Liberation Sans', sans-serif;font-size:5.2px;font-weight:normal;color:#606060;white-space:nowrap;transform:scaleX(1.04);transform-origin:50% 50%;">21-May</div>
<div style="position:absolute;left:-364px;width:1000px;text-align:center;top:86px;height:10.4px;line-height:10.4px;font-family:'Liberation Sans', sans-serif;font-size:5.2px;font-weight:normal;color:#606060;white-space:nowrap;transform:scaleX(1.04);transform-origin:50% 50%;">26-May</div>
<div style="position:absolute;left:31px;top:93.8px;height:13.6px;line-height:13.6px;font-family:'Liberation Sans', sans-serif;font-size:6.8px;font-weight:bold;color:#1a1a1a;white-space:nowrap;transform:scaleX(0.93);transform-origin:0 50%;">Target rate - Average</div>
<div style="position:absolute;left:120px;top:91.2px;height:18.4px;line-height:18.4px;font-family:'Liberation Sans', sans-serif;font-size:9.2px;font-weight:normal;color:#1a1a1a;white-space:nowrap;transform:scaleX(0.75);transform-origin:0 50%;">5%</div>
<svg style="position:absolute;left:98px;top:95px;overflow:visible" width="16" height="10" viewBox="88 427 16 10">
<ellipse cx="95.5" cy="432" rx="6.5" ry="3.8" fill="none" stroke="#222" stroke-width="1.2"/><ellipse cx="95.5" cy="432" rx="3.6" ry="2" fill="none" stroke="#222" stroke-width="1"/><circle cx="95.5" cy="432" r="1" fill="#222"/><path d="M95.5 432 L103 428.5" stroke="#222" stroke-width="1"/>
</svg>
<div style="position:absolute;left:31px;top:104.2px;height:13.6px;line-height:13.6px;font-family:'Liberation Sans', sans-serif;font-size:6.8px;font-weight:bold;color:#3aa57a;white-space:nowrap;transform:scaleX(0.9);transform-origin:0 50%;">Actual Rate - Average</div>
<div style="position:absolute;left:103.5px;top:105.6px;width:9px;height:9px;background:#6aaa8a;border-radius:50%;"></div>
<svg style="position:absolute;left:103px;top:105px;overflow:visible" width="10" height="10" viewBox="93 437 10 10">
<path d="M95.6 442 L97.4 443.9 L100.6 439.8" fill="none" stroke="#fff" stroke-width="1.3"/>
</svg>
<div style="position:absolute;left:119px;top:101.6px;height:18.4px;line-height:18.4px;font-family:'Liberation Sans', sans-serif;font-size:9.2px;font-weight:normal;color:#3aa57a;white-space:nowrap;transform:scaleX(0.75);transform-origin:0 50%;">4%</div>
<div style="position:absolute;left:0px;top:124.8px;width:160px;height:10.4px;background:#36afe6;"></div>
<div style="position:absolute;left:-420px;width:1000px;text-align:center;top:123px;height:14px;line-height:14px;font-family:'Liberation Sans', sans-serif;font-size:7px;font-weight:bold;color:#1b365d;white-space:nowrap;"></div>
<div style="position:absolute;left:10.8px;top:123.2px;height:14px;line-height:14px;font-family:'Liberation Sans', sans-serif;font-size:7px;font-weight:bold;color:#1b365d;white-space:nowrap;transform:scaleX(0.9);transform-origin:0 50%;">CUSTOMER SATISFACTION SCORE (CSAT)</div>
<svg style="position:absolute;left:31.9px;top:141.7px;overflow:visible" width="87" height="44" viewBox="21.9 473.7 87 44">
<path d="M71.89 476.19 A41.5 40 0 0 1 106.9 515.7 L86 515.7 A20.6 20.9 0 0 0 68.62 495.06 Z" fill="#fff" stroke="#bdbdbd" stroke-width="1.3"/>
<path d="M23.9 515.7 A41.5 40 0 0 1 71.89 476.19 L68.62 495.06 A20.6 20.9 0 0 0 44.8 515.7 Z" fill="#7e4fa5" stroke="#6a3f90" stroke-width=".6"/>
</svg>
<svg style="position:absolute;left:70px;top:138px;overflow:visible" width="20" height="50" viewBox="60 470 20 50">
<path d="M64.6 515.7 L71.2 476.5" stroke="#1a1a1a" stroke-width="1.8" stroke-linecap="round"/>
</svg>
<div style="position:absolute;left:-420.5px;width:1000px;text-align:center;top:179.4px;height:22px;line-height:22px;font-family:'Liberation Sans', sans-serif;font-size:11px;font-weight:bold;color:#6e5a92;white-space:nowrap;transform:scaleX(1.09);transform-origin:50% 50%;">55%</div>
<div style="position:absolute;left:-418.1px;width:1000px;text-align:center;top:194.2px;height:16.4px;line-height:16.4px;font-family:'Liberation Sans', sans-serif;font-size:8.2px;font-weight:bold;color:#7a6a98;white-space:nowrap;transform:scaleX(1.08);transform-origin:50% 50%;">CSAT 82</div>
<div style="position:absolute;left:21.8px;top:207.5px;height:13.2px;line-height:13.2px;font-family:'Liberation Sans', sans-serif;font-size:6.6px;font-weight:bold;color:#1a1a1a;white-space:nowrap;transform:scaleX(0.99);transform-origin:0 50%;">Number of Surveys</div>
<div style="position:absolute;left:88.9px;top:207.5px;height:13.2px;line-height:13.2px;font-family:'Liberation Sans', sans-serif;font-size:6.6px;font-weight:bold;color:#1a1a1a;white-space:nowrap;">150</div>
<div style="position:absolute;left:21.8px;top:217.7px;height:10.8px;line-height:10.8px;font-family:'Liberation Sans', sans-serif;font-size:5.4px;font-weight:normal;color:#3aa57a;white-space:nowrap;transform:scaleX(1.1);transform-origin:0 50%;">Best CSAT-Product</div>
<div style="position:absolute;left:93.7px;top:217.7px;height:10.8px;line-height:10.8px;font-family:'Liberation Sans', sans-serif;font-size:5.4px;font-weight:normal;color:#3aa57a;white-space:nowrap;transform:scaleX(1.11);transform-origin:0 50%;">Agent-7</div>
</div>
<div style="position:absolute;left:731.8px;top:569.8px;width:278.2px;height:142.8px;background:#fff;box-shadow:0 0 0 .7px #c4c4c4,1px 1px 0 #8c8c8c,1px 2px 2px rgba(0,0,0,.3);overflow:hidden;">
<div style="position:absolute;left:0px;top:8.4px;width:261.2px;height:13.2px;background:#0d2a6b;"></div>
<div style="position:absolute;left:9.2px;top:5.6px;height:20px;line-height:20px;font-family:'Liberation Sans', sans-serif;font-size:10px;font-weight:bold;color:#fff;white-space:nowrap;transform:scaleX(0.87);transform-origin:0 50%;">OVERDUE STATUS</div>
<div style="position:absolute;left:-740.2px;width:1000px;text-align:right;top:10.3px;height:13px;line-height:13px;font-family:'Liberation Sans', sans-serif;font-size:6.5px;font-weight:bold;color:#fff;white-space:nowrap;font-style:italic;transform:scaleX(1);transform-origin:100% 50%;">Rs in Millions</div>
<div style="position:absolute;left:28.2px;top:119.4px;width:230px;height:0.6px;background:#d9d9d9;"></div>
<div style="position:absolute;left:34.4px;top:77px;width:24.4px;height:42.6px;background:#0f75bd;"></div>
<div style="position:absolute;left:-453.6px;width:1000px;text-align:center;top:56.8px;height:18px;line-height:18px;font-family:'Liberation Sans', sans-serif;font-size:9px;font-weight:bold;color:#1f7ab8;white-space:nowrap;transform:scaleX(0.97);transform-origin:50% 50%;">4,233.61</div>
<div style="position:absolute;left:94.6px;top:76.5px;width:24.6px;height:1px;background:#b7d6c6;"></div>
<div style="position:absolute;left:-392.8px;width:1000px;text-align:center;top:52.4px;height:18px;line-height:18px;font-family:'Liberation Sans', sans-serif;font-size:9px;font-weight:bold;color:#2ea05a;white-space:nowrap;transform:scaleX(0.95);transform-origin:50% 50%;">(25.00)</div>
<div style="position:absolute;left:155.4px;top:74.2px;width:24.6px;height:2.8px;background:#27a050;"></div>
<div style="position:absolute;left:-332.8px;width:1000px;text-align:center;top:56.8px;height:18px;line-height:18px;font-family:'Liberation Sans', sans-serif;font-size:9px;font-weight:bold;color:#2ea05a;white-space:nowrap;transform:scaleX(0.94);transform-origin:50% 50%;">312.94</div>
<div style="position:absolute;left:215.6px;top:74.2px;width:24.1px;height:45.4px;background:#0d2a6b;"></div>
<div style="position:absolute;left:-273.2px;width:1000px;text-align:center;top:43.3px;height:19.6px;line-height:19.6px;font-family:'Liberation Sans', sans-serif;font-size:9.8px;font-weight:bold;color:#1f2a44;white-space:nowrap;transform:scaleX(0.89);transform-origin:50% 50%;">4,521.55</div>
<div style="position:absolute;left:-453px;width:1000px;text-align:center;top:124.3px;height:17.6px;line-height:17.6px;font-family:'Liberation Sans', sans-serif;font-size:8.8px;font-weight:normal;color:#404040;white-space:nowrap;transform:scaleX(0.9);transform-origin:50% 50%;">31-Dec-20</div>
<div style="position:absolute;left:-392.8px;width:1000px;text-align:center;top:124.3px;height:17.6px;line-height:17.6px;font-family:'Liberation Sans', sans-serif;font-size:8.8px;font-weight:normal;color:#404040;white-space:nowrap;transform:scaleX(0.9);transform-origin:50% 50%;">Receipts</div>
<div style="position:absolute;left:-332.6px;width:1000px;text-align:center;top:124.3px;height:17.6px;line-height:17.6px;font-family:'Liberation Sans', sans-serif;font-size:8.8px;font-weight:normal;color:#404040;white-space:nowrap;transform:scaleX(0.92);transform-origin:50% 50%;">Invoices</div>
<div style="position:absolute;left:-272.4px;width:1000px;text-align:center;top:124.3px;height:17.6px;line-height:17.6px;font-family:'Liberation Sans', sans-serif;font-size:8.8px;font-weight:normal;color:#404040;white-space:nowrap;transform:scaleX(0.88);transform-origin:50% 50%;">19-Jan-21</div>
</div>
<div style="position:absolute;left:271.5px;top:634.3px;width:422.5px;height:79.7px;background:#fff;box-shadow:0 0 0 .7px #c4c4c4,1px 1px 0 #8c8c8c,1px 2px 2px rgba(0,0,0,.3);overflow:hidden;">
<div style="position:absolute;left:134.9px;top:-0.2px;height:20.4px;line-height:20.4px;font-family:'Liberation Sans', sans-serif;font-size:10.2px;font-weight:bold;color:#262626;white-space:nowrap;transform:scaleX(0.94);transform-origin:0 50%;">Average Monthly Sales Trend</div>
<svg style="position:absolute;left:0px;top:0px;overflow:visible" width="422.5" height="79.7" viewBox="271.5 634.3 422.5 79.7">
<polyline fill="none" stroke="#6b6b6b" stroke-width="0.8" stroke-linejoin="round" points="275.87,651.91 312.52,659.82 347.71,653.96 382.9,656.89 418.09,659.82 453.28,656.89 488.48,653.96 523.67,652.49 560.32,651.03" />
<polyline fill="none" stroke="#6b6b6b" stroke-width="0.8" stroke-linejoin="round" points="275.87,666.57 312.52,668.62 347.71,673.02 382.9,664.81 418.09,665.69 453.28,672.43 488.48,667.74 523.67,664.22 560.32,667.16" />
<polyline fill="none" stroke="#6b6b6b" stroke-width="0.8" stroke-linejoin="round" points="275.87,686.22 312.52,683.28 347.71,682.4 382.9,681.82 418.09,678.01 453.28,683.28 488.48,681.82 523.67,680.35 560.32,679.47" />
<polyline fill="none" stroke="#6b6b6b" stroke-width="0.8" stroke-linejoin="round" points="275.87,699.41 312.52,691.2 347.71,695.89 382.9,694.13 418.09,691.2 453.28,693.55 488.48,694.13 523.67,692.96 560.32,692.08" />
</svg>
</div>
<div style="position:absolute;left:283.2px;top:508.2px;width:271.3px;height:124.3px;background:#fff;box-shadow:0 0 0 .7px #b0b0b0,1px 1px 0 #666,0 2px 1px rgba(0,0,0,.55);overflow:hidden;">
<div style="position:absolute;left:9.7px;top:21.1px;width:69.5px;height:8.8px;background:#7030a0;"></div>
<div style="position:absolute;left:79.2px;top:21.1px;width:69.8px;height:8.8px;background:#0070c0;"></div>
<div style="position:absolute;left:50.1px;top:20px;width:2.5px;height:11.5px;background:#f4a460;"></div>
<div style="position:absolute;left:9.7px;top:77.7px;width:104.7px;height:9.7px;background:#7030a0;"></div>
<div style="position:absolute;left:114.4px;top:77.7px;width:104.1px;height:9.7px;background:#0070c0;"></div>
<div style="position:absolute;left:50.1px;top:76.4px;width:2.5px;height:12.4px;background:#f4a460;"></div>
</div>
<div style="position:absolute;left:537.8px;top:516.8px;width:221.8px;height:185.6px;background:#fff;box-shadow:0 0 0 .7px #c4c4c4,1px 1px 0 #8c8c8c,1px 2px 2px rgba(0,0,0,.3);overflow:hidden;">
<div style="position:absolute;left:8.4px;top:9.2px;width:205px;height:13.2px;background:#36afe6;"></div>
<div style="position:absolute;left:-388.8px;width:1000px;text-align:center;top:6.7px;height:18.2px;line-height:18.2px;font-family:'Liberation Sans', sans-serif;font-size:9.1px;font-weight:bold;color:#1b365d;white-space:nowrap;transform:scaleX(0.94);transform-origin:50% 50%;">HOLD TIME</div>
<div style="position:absolute;left:11.8px;top:38.7px;height:14.8px;line-height:14.8px;font-family:'Liberation Sans', sans-serif;font-size:7.4px;font-weight:bold;color:#1a1a1a;white-space:nowrap;transform:scaleX(1.01);transform-origin:0 50%;">Average Hold Time per Agent (sec)</div>
<div style="position:absolute;left:172.2px;top:36.1px;height:19px;line-height:19px;font-family:'Liberation Sans', sans-serif;font-size:9.5px;font-weight:bold;color:#1a1a1a;white-space:nowrap;">50</div>
<svg style="position:absolute;left:152.2px;top:36.2px;overflow:visible" width="15" height="15" viewBox="690 553 15 15">
<circle cx="697.6" cy="561.5" r="4.6" fill="none" stroke="#222" stroke-width="1.3"/><path d="M697.6 558.8 V561.6 H699.6" fill="none" stroke="#222" stroke-width="1"/><path d="M692.5 557.2 L694.5 555.3 M702.7 557.2 L700.7 555.3 M694.5 566 L693.3 567.3 M700.7 566 L701.9 567.3" stroke="#222" stroke-width="1.2"/>
</svg>
<div style="position:absolute;left:11.8px;top:51px;height:14.4px;line-height:14.4px;font-family:'Liberation Sans', sans-serif;font-size:7.2px;font-weight:bold;color:#b8475a;white-space:nowrap;transform:scaleX(1.01);transform-origin:0 50%;">Agent-6</div>
<div style="position:absolute;left:11.8px;top:62.8px;height:14.4px;line-height:14.4px;font-family:'Liberation Sans', sans-serif;font-size:7.2px;font-weight:bold;color:#b8475a;white-space:nowrap;transform:scaleX(1.01);transform-origin:0 50%;">Agent-7</div>
<div style="position:absolute;left:72px;top:49px;height:18.8px;line-height:18.8px;font-family:'Liberation Sans', sans-serif;font-size:9.4px;font-weight:normal;color:#b04050;white-space:nowrap;transform:scaleX(0.96);transform-origin:0 50%;">91</div>
<div style="position:absolute;left:72px;top:60.8px;height:18.8px;line-height:18.8px;font-family:'Liberation Sans', sans-serif;font-size:9.4px;font-weight:normal;color:#b04050;white-space:nowrap;transform:scaleX(0.96);transform-origin:0 50%;">64</div>
<svg style="position:absolute;left:48px;top:52.8px;overflow:visible" width="10" height="10" viewBox="585.8 569.6 10 10">
<path d="M587.3 571.1L594.3 578.1M594.3 571.1L587.3 578.1" stroke="#d45f4f" stroke-width="2.5" stroke-linecap="round"/>
</svg>
<svg style="position:absolute;left:48px;top:64.6px;overflow:visible" width="10" height="10" viewBox="585.8 581.4 10 10">
<path d="M587.3 582.9L594.3 589.9M594.3 582.9L587.3 589.9" stroke="#d45f4f" stroke-width="2.5" stroke-linecap="round"/>
</svg>
<div style="position:absolute;left:20.8px;top:111.4px;width:19.8px;height:45.7px;background:linear-gradient(90deg,#62458f 0%,#7a52a2 8%,#7d53a4 60%,#7a51a0 86%,#5c4680 92%,#4f3d6e 100%);box-sizing:border-box;border-top:1px solid #4e3a6b;box-shadow:inset 0 1.3px 0 #a27ec8;"></div>
<div style="position:absolute;left:-469.3px;width:1000px;text-align:center;top:96.8px;height:14.8px;line-height:14.8px;font-family:'Liberation Sans', sans-serif;font-size:7.4px;font-weight:normal;color:#5a4f6e;white-space:nowrap;">62</div>
<div style="position:absolute;left:-469.3px;width:1000px;text-align:center;top:160.8px;height:10.6px;line-height:10.6px;font-family:'Liberation Sans', sans-serif;font-size:5.3px;font-weight:normal;color:#666;white-space:nowrap;transform:scaleX(1.08);transform-origin:50% 50%;">Agent-1</div>
<div style="position:absolute;left:47.6px;top:133.8px;width:20.2px;height:23.3px;background:linear-gradient(90deg,#62458f 0%,#7a52a2 8%,#7d53a4 60%,#7a51a0 86%,#5c4680 92%,#4f3d6e 100%);box-sizing:border-box;border-top:1px solid #4e3a6b;box-shadow:inset 0 1.3px 0 #a27ec8;"></div>
<div style="position:absolute;left:-442.3px;width:1000px;text-align:center;top:119.4px;height:14.8px;line-height:14.8px;font-family:'Liberation Sans', sans-serif;font-size:7.4px;font-weight:normal;color:#5a4f6e;white-space:nowrap;">32</div>
<div style="position:absolute;left:-442.3px;width:1000px;text-align:center;top:160.8px;height:10.6px;line-height:10.6px;font-family:'Liberation Sans', sans-serif;font-size:5.3px;font-weight:normal;color:#666;white-space:nowrap;transform:scaleX(1.08);transform-origin:50% 50%;">Agent-2</div>
<div style="position:absolute;left:75.4px;top:142.2px;width:20.4px;height:14.9px;background:linear-gradient(90deg,#62458f 0%,#7a52a2 8%,#7d53a4 60%,#7a51a0 86%,#5c4680 92%,#4f3d6e 100%);box-sizing:border-box;border-top:1px solid #4e3a6b;box-shadow:inset 0 1.3px 0 #a27ec8;"></div>
<div style="position:absolute;left:-414.4px;width:1000px;text-align:center;top:128.4px;height:14.8px;line-height:14.8px;font-family:'Liberation Sans', sans-serif;font-size:7.4px;font-weight:normal;color:#5a4f6e;white-space:nowrap;">20</div>
<div style="position:absolute;left:-414.4px;width:1000px;text-align:center;top:160.8px;height:10.6px;line-height:10.6px;font-family:'Liberation Sans', sans-serif;font-size:5.3px;font-weight:normal;color:#666;white-space:nowrap;transform:scaleX(1.08);transform-origin:50% 50%;">Agent-3</div>
<div style="position:absolute;left:103.4px;top:122.1px;width:19.8px;height:35px;background:linear-gradient(90deg,#62458f 0%,#7a52a2 8%,#7d53a4 60%,#7a51a0 86%,#5c4680 92%,#4f3d6e 100%);box-sizing:border-box;border-top:1px solid #4e3a6b;box-shadow:inset 0 1.3px 0 #a27ec8;"></div>
<div style="position:absolute;left:-386.7px;width:1000px;text-align:center;top:107.9px;height:14.8px;line-height:14.8px;font-family:'Liberation Sans', sans-serif;font-size:7.4px;font-weight:normal;color:#5a4f6e;white-space:nowrap;">48</div>
<div style="position:absolute;left:-386.7px;width:1000px;text-align:center;top:160.8px;height:10.6px;line-height:10.6px;font-family:'Liberation Sans', sans-serif;font-size:5.3px;font-weight:normal;color:#666;white-space:nowrap;transform:scaleX(1.08);transform-origin:50% 50%;">Agent-4</div>
<div style="position:absolute;left:130.8px;top:135.2px;width:20.4px;height:21.9px;background:linear-gradient(90deg,#62458f 0%,#7a52a2 8%,#7d53a4 60%,#7a51a0 86%,#5c4680 92%,#4f3d6e 100%);box-sizing:border-box;border-top:1px solid #4e3a6b;box-shadow:inset 0 1.3px 0 #a27ec8;"></div>
<div style="position:absolute;left:-359px;width:1000px;text-align:center;top:121.1px;height:14.8px;line-height:14.8px;font-family:'Liberation Sans', sans-serif;font-size:7.4px;font-weight:normal;color:#5a4f6e;white-space:nowrap;">30</div>
<div style="position:absolute;left:-359px;width:1000px;text-align:center;top:160.8px;height:10.6px;line-height:10.6px;font-family:'Liberation Sans', sans-serif;font-size:5.3px;font-weight:normal;color:#666;white-space:nowrap;transform:scaleX(1.08);transform-origin:50% 50%;">Agent-5</div>
<div style="position:absolute;left:158.2px;top:89.9px;width:20.2px;height:67.2px;background:linear-gradient(90deg,#62458f 0%,#7a52a2 8%,#7d53a4 60%,#7a51a0 86%,#5c4680 92%,#4f3d6e 100%);box-sizing:border-box;border-top:1px solid #4e3a6b;box-shadow:inset 0 1.3px 0 #a27ec8;"></div>
<div style="position:absolute;left:-331.7px;width:1000px;text-align:center;top:75.7px;height:14.8px;line-height:14.8px;font-family:'Liberation Sans', sans-serif;font-size:7.4px;font-weight:normal;color:#5a4f6e;white-space:nowrap;">91</div>
<div style="position:absolute;left:-331.7px;width:1000px;text-align:center;top:160.8px;height:10.6px;line-height:10.6px;font-family:'Liberation Sans', sans-serif;font-size:5.3px;font-weight:normal;color:#666;white-space:nowrap;transform:scaleX(1.08);transform-origin:50% 50%;">Agent-6</div>
<div style="position:absolute;left:185.4px;top:110px;width:21px;height:47.1px;background:linear-gradient(90deg,#62458f 0%,#7a52a2 8%,#7d53a4 60%,#7a51a0 86%,#5c4680 92%,#4f3d6e 100%);box-sizing:border-box;border-top:1px solid #4e3a6b;box-shadow:inset 0 1.3px 0 #a27ec8;"></div>
<div style="position:absolute;left:-304.1px;width:1000px;text-align:center;top:95.4px;height:14.8px;line-height:14.8px;font-family:'Liberation Sans', sans-serif;font-size:7.4px;font-weight:normal;color:#5a4f6e;white-space:nowrap;">64</div>
<div style="position:absolute;left:-304.1px;width:1000px;text-align:center;top:160.8px;height:10.6px;line-height:10.6px;font-family:'Liberation Sans', sans-serif;font-size:5.3px;font-weight:normal;color:#666;white-space:nowrap;transform:scaleX(1.08);transform-origin:50% 50%;">Agent-7</div>
</div>
<div style="position:absolute;left:-10px;top:560px;width:280.3px;height:153px;background:#fff;box-shadow:0 0 0 .7px #c4c4c4,1px 1px 0 #8c8c8c,1px 2px 2px rgba(0,0,0,.3);overflow:hidden;">
<div style="position:absolute;left:0px;top:8.6px;width:271.7px;height:16px;background:#0d2a6b;"></div>
<div style="position:absolute;left:7.2px;top:5.4px;height:23.6px;line-height:23.6px;font-family:'Liberation Sans', sans-serif;font-size:11.8px;font-weight:bold;color:#fff;white-space:nowrap;transform:scaleX(1);transform-origin:0 50%;">BILLING SUMMARY - Over Due Amount</div>
<div style="position:absolute;left:-732.4px;width:1000px;text-align:right;top:21.6px;height:15.6px;line-height:15.6px;font-family:'Liberation Sans', sans-serif;font-size:7.8px;font-weight:bold;color:#1a1a1a;white-space:nowrap;font-style:italic;transform:scaleX(1.07);transform-origin:100% 50%;">Rs in Millions</div>
<div style="position:absolute;left:0px;top:33.5px;width:272.5px;height:1.4px;background:#4a70aa;"></div>
<div style="position:absolute;left:0px;top:49.1px;width:272.5px;height:1.4px;background:#4a70aa;"></div>
<div style="position:absolute;left:0px;top:63.7px;width:272.5px;height:1.4px;background:#4a70aa;"></div>
<div style="position:absolute;left:0px;top:78.3px;width:272.5px;height:1.4px;background:#4a70aa;"></div>
<div style="position:absolute;left:0px;top:93.1px;width:272.5px;height:1.4px;background:#4a70aa;"></div>
<div style="position:absolute;left:0px;top:108px;width:272.5px;height:1.4px;background:#4a70aa;"></div>
<div style="position:absolute;left:0px;top:112.7px;width:272.5px;height:1.4px;background:#4a70aa;"></div>
<div style="position:absolute;left:0px;top:128.7px;width:272.5px;height:1.4px;background:#4a70aa;"></div>
<div style="position:absolute;left:0px;top:133.2px;width:272.5px;height:1.4px;background:#4a70aa;"></div>
<div style="position:absolute;left:270.7px;top:34.2px;width:1.8px;height:74.5px;background:#4a70aa;"></div>
<div style="position:absolute;left:270.7px;top:113.4px;width:1.8px;height:16px;background:#4a70aa;"></div>
<div style="position:absolute;left:270.7px;top:133.9px;width:1.8px;height:12.1px;background:#4a70aa;"></div>
<div style="position:absolute;left:4.6px;top:33.3px;height:18.6px;line-height:18.6px;font-family:'Liberation Sans', sans-serif;font-size:9.3px;font-weight:bold;color:#4f6fa0;white-space:nowrap;">S.No</div>
<div style="position:absolute;left:-377.4px;width:1000px;text-align:center;top:33.3px;height:18.6px;line-height:18.6px;font-family:'Liberation Sans', sans-serif;font-size:9.3px;font-weight:bold;color:#4f6fa0;white-space:nowrap;transform:scaleX(1.13);transform-origin:50% 50%;">Description</div>
<div style="position:absolute;left:-257px;width:1000px;text-align:center;top:33.3px;height:18.6px;line-height:18.6px;font-family:'Liberation Sans', sans-serif;font-size:9.3px;font-weight:bold;color:#4f6fa0;white-space:nowrap;transform:scaleX(1.12);transform-origin:50% 50%;">Balance</div>
<div style="position:absolute;left:-482.4px;width:1000px;text-align:center;top:47.3px;height:20.8px;line-height:20.8px;font-family:'Liberation Sans', sans-serif;font-size:10.4px;font-weight:normal;color:#1a1a1a;white-space:nowrap;">1</div>
<div style="position:absolute;left:36.6px;top:47.3px;height:20.8px;line-height:20.8px;font-family:'Liberation Sans', sans-serif;font-size:10.4px;font-weight:normal;color:#1a1a1a;white-space:nowrap;transform:scaleX(1.11);transform-origin:0 50%;">Dividend Withholding Tax</div>
<div style="position:absolute;left:-734.6px;width:1000px;text-align:right;top:47.3px;height:20.8px;line-height:20.8px;font-family:'Liberation Sans', sans-serif;font-size:10.4px;font-weight:normal;color:#1a1a1a;white-space:nowrap;transform:scaleX(0.92);transform-origin:100% 50%;">68.37</div>
<div style="position:absolute;left:-482.4px;width:1000px;text-align:center;top:61.9px;height:20.8px;line-height:20.8px;font-family:'Liberation Sans', sans-serif;font-size:10.4px;font-weight:normal;color:#1a1a1a;white-space:nowrap;">2</div>
<div style="position:absolute;left:36.6px;top:61.9px;height:20.8px;line-height:20.8px;font-family:'Liberation Sans', sans-serif;font-size:10.4px;font-weight:normal;color:#1a1a1a;white-space:nowrap;transform:scaleX(1.11);transform-origin:0 50%;">Monthly Invoices</div>
<div style="position:absolute;left:-734.6px;width:1000px;text-align:right;top:61.9px;height:20.8px;line-height:20.8px;font-family:'Liberation Sans', sans-serif;font-size:10.4px;font-weight:normal;color:#1a1a1a;white-space:nowrap;transform:scaleX(1.09);transform-origin:100% 50%;">3,685.31</div>
<div style="position:absolute;left:-482.4px;width:1000px;text-align:center;top:76.6px;height:20.8px;line-height:20.8px;font-family:'Liberation Sans', sans-serif;font-size:10.4px;font-weight:normal;color:#1a1a1a;white-space:nowrap;">3</div>
<div style="position:absolute;left:36.6px;top:76.6px;height:20.8px;line-height:20.8px;font-family:'Liberation Sans', sans-serif;font-size:10.4px;font-weight:normal;color:#1a1a1a;white-space:nowrap;transform:scaleX(1.07);transform-origin:0 50%;">Late Payment Invoices</div>
<div style="position:absolute;left:-734.6px;width:1000px;text-align:right;top:76.6px;height:20.8px;line-height:20.8px;font-family:'Liberation Sans', sans-serif;font-size:10.4px;font-weight:normal;color:#1a1a1a;white-space:nowrap;transform:scaleX(1.07);transform-origin:100% 50%;">767.88</div>
<div style="position:absolute;left:36.6px;top:91.5px;height:20.8px;line-height:20.8px;font-family:'Liberation Sans', sans-serif;font-size:10.4px;font-weight:bold;color:#2ea05a;white-space:nowrap;transform:scaleX(1.05);transform-origin:0 50%;">Total Over Due</div>
<div style="position:absolute;left:-734.6px;width:1000px;text-align:right;top:91.5px;height:20.8px;line-height:20.8px;font-family:'Liberation Sans', sans-serif;font-size:10.4px;font-weight:bold;color:#2ea05a;white-space:nowrap;transform:scaleX(1.11);transform-origin:100% 50%;">4,521.55</div>
<div style="position:absolute;left:-482.4px;width:1000px;text-align:center;top:111.6px;height:20.8px;line-height:20.8px;font-family:'Liberation Sans', sans-serif;font-size:10.4px;font-weight:normal;color:#1a1a1a;white-space:nowrap;">1</div>
<div style="position:absolute;left:36.6px;top:111.6px;height:20.8px;line-height:20.8px;font-family:'Liberation Sans', sans-serif;font-size:10.4px;font-weight:normal;color:#1a1a1a;white-space:nowrap;transform:scaleX(1.1);transform-origin:0 50%;">Further to become due</div>
<div style="position:absolute;left:-734.6px;width:1000px;text-align:right;top:111.6px;height:20.8px;line-height:20.8px;font-family:'Liberation Sans', sans-serif;font-size:10.4px;font-weight:normal;color:#1a1a1a;white-space:nowrap;transform:scaleX(1.07);transform-origin:100% 50%;">436.04</div>
<div style="position:absolute;left:36.6px;top:133.2px;height:20.8px;line-height:20.8px;font-family:'Liberation Sans', sans-serif;font-size:10.4px;font-weight:bold;color:#3b6ba8;white-space:nowrap;transform:scaleX(1.05);transform-origin:0 50%;">Total Receivable</div>
<div style="position:absolute;left:-734.6px;width:1000px;text-align:right;top:133.2px;height:20.8px;line-height:20.8px;font-family:'Liberation Sans', sans-serif;font-size:10.4px;font-weight:bold;color:#3b6ba8;white-space:nowrap;transform:scaleX(1.11);transform-origin:100% 50%;">4,957.59</div>
<div style="position:absolute;left:0px;top:146px;width:280px;height:7px;background:#fff;"></div>
</div>
<div style="position:absolute;left:270.7px;top:621.6px;width:11.7px;height:12px;background:#8c8c8c;"></div>
<div style="position:absolute;left:271px;top:620.2px;height:16px;line-height:16px;font-family:'Liberation Sans', sans-serif;font-size:8px;font-weight:bold;color:#fff;white-space:nowrap;">Cit</div>
</body></html>
